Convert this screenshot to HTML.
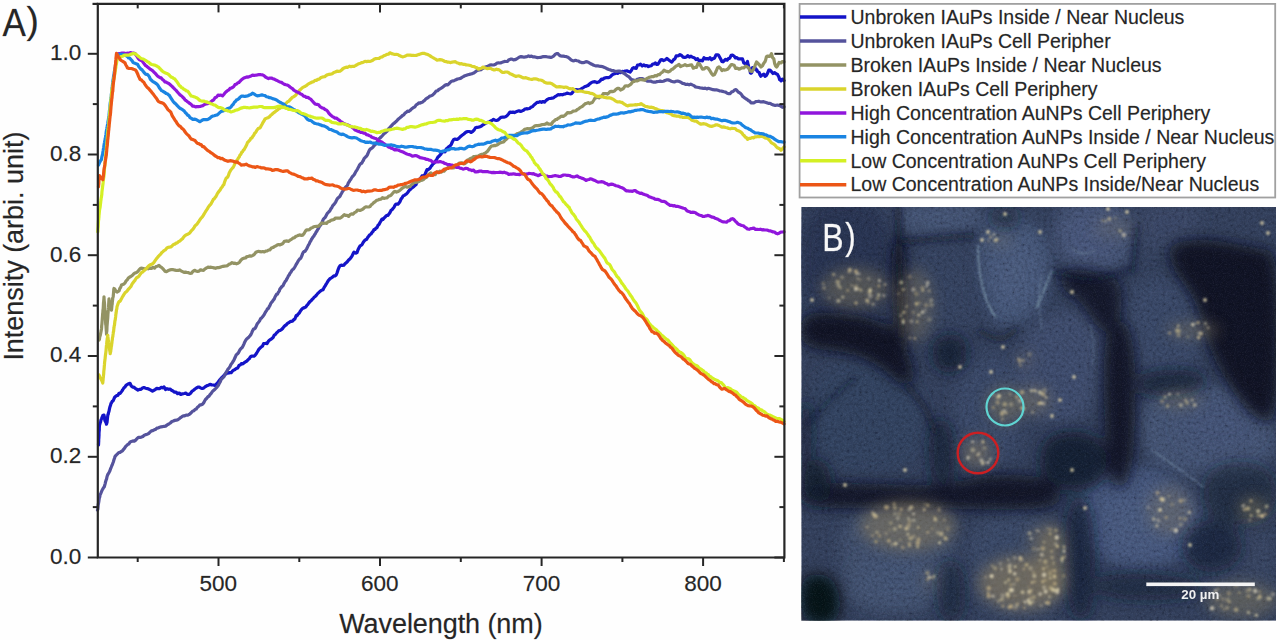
<!DOCTYPE html>
<html><head><meta charset="utf-8"><style>
html,body{margin:0;padding:0;background:#fff;}
body{width:1280px;height:640px;overflow:hidden;position:relative;}
#w{position:absolute;left:0;top:0;width:1280px;height:640px;}
svg{display:block;}
text{font-family:"Liberation Sans",sans-serif;fill:#262626;stroke:#262626;stroke-width:0.35px;stroke-opacity:0.55;}
</style></head><body>
<div id="w"><svg width="1280" height="640" viewBox="0 0 1280 640">
<rect width="1280" height="640" fill="#fefefe"/>
<defs>
<clipPath id="mc"><rect x="801.5" y="207" width="474.5" height="413.5"/></clipPath>
<filter id="b10" x="-30%" y="-30%" width="160%" height="160%"><feGaussianBlur stdDeviation="10"/></filter>
<filter id="b7" x="-30%" y="-30%" width="160%" height="160%"><feGaussianBlur stdDeviation="7"/></filter>
<filter id="b3" x="-30%" y="-30%" width="160%" height="160%"><feGaussianBlur stdDeviation="3"/></filter>
<filter id="b1" x="-50%" y="-50%" width="200%" height="200%"><feGaussianBlur stdDeviation="0.9"/></filter>
<filter id="b2" x="-50%" y="-50%" width="200%" height="200%"><feGaussianBlur stdDeviation="2"/></filter>
<filter id="grain" x="0" y="0" width="100%" height="100%">
 <feTurbulence type="fractalNoise" baseFrequency="0.32" numOctaves="2" seed="5"/>
 <feColorMatrix type="matrix" values="1.6 0 0 0 -0.3  1.6 0 0 0 -0.3  1.6 0 0 0 -0.25  0 0 0 0 1"/>
</filter>
<filter id="grainf" x="0" y="0" width="100%" height="100%">
 <feTurbulence type="fractalNoise" baseFrequency="0.9" numOctaves="1" seed="3"/>
 <feColorMatrix type="matrix" values="0 0 0 0 0.72  0 0 0 0 0.78  0 0 0 0 0.92  0 0 0 1.7 -0.8"/>
</filter>
</defs>
<g clip-path="url(#mc)">
<rect x="801.5" y="207" width="474.5" height="413.5" fill="#36425e"/>
<g filter="url(#b7)"><path d="M800.0,257.0 Q800.0,200.0 845.0,200.0 Q890.0,200.0 891.0,250.0 Q892.0,300.0 886.0,308.0 Q880.0,316.0 840.0,315.0 Q800.0,314.0 800.0,257.0 Z" fill="#2a3552" opacity="1"/><path d="M903.0,290.0 Q902.0,248.0 936.0,245.0 Q970.0,242.0 973.0,285.0 Q976.0,328.0 960.0,332.0 Q944.0,336.0 924.0,334.0 Q904.0,332.0 903.0,290.0 Z" fill="#374462" opacity="1"/><path d="M898.0,218.0 Q898.0,200.0 941.5,200.0 Q985.0,200.0 983.5,215.0 Q982.0,230.0 940.0,233.0 Q898.0,236.0 898.0,218.0 Z" fill="#4a5878" opacity="1"/><path d="M980.0,269.0 Q975.0,222.0 993.5,214.0 Q1012.0,206.0 1032.0,223.0 Q1052.0,240.0 1051.0,270.0 Q1050.0,300.0 1031.0,315.0 Q1012.0,330.0 998.5,323.0 Q985.0,316.0 980.0,269.0 Z" fill="#4a5a7c" opacity="1"/><path d="M1055.0,234.0 Q1052.0,200.0 1092.0,200.0 Q1132.0,200.0 1133.5,227.5 Q1135.0,255.0 1121.5,264.5 Q1108.0,274.0 1083.0,271.0 Q1058.0,268.0 1055.0,234.0 Z" fill="#485778" opacity="1"/><path d="M1139.0,228.0 Q1136.0,200.0 1170.5,200.0 Q1205.0,200.0 1200.0,220.0 Q1195.0,240.0 1168.5,248.0 Q1142.0,256.0 1139.0,228.0 Z" fill="#3c4868" opacity="1"/><path d="M1125.0,326.0 Q1124.0,280.0 1159.5,279.0 Q1195.0,278.0 1202.5,304.0 Q1210.0,330.0 1200.0,352.5 Q1190.0,375.0 1158.0,373.5 Q1126.0,372.0 1125.0,326.0 Z" fill="#3e4b6b" opacity="1"/><path d="M1016.0,373.0 Q1016.0,326.0 1055.5,313.0 Q1095.0,300.0 1099.5,336.0 Q1104.0,372.0 1094.5,398.5 Q1085.0,425.0 1050.5,422.5 Q1016.0,420.0 1016.0,373.0 Z" fill="#42506f" opacity="1"/><path d="M954.0,420.0 Q950.0,372.0 981.0,359.0 Q1012.0,346.0 1020.0,383.0 Q1028.0,420.0 1016.5,445.0 Q1005.0,470.0 981.5,469.0 Q958.0,468.0 954.0,420.0 Z" fill="#3e4b6b" opacity="1"/><path d="M808.0,422.0 Q808.0,368.0 846.5,364.0 Q885.0,360.0 905.0,377.5 Q925.0,395.0 926.5,432.5 Q928.0,470.0 868.0,473.0 Q808.0,476.0 808.0,422.0 Z" fill="#354462" opacity="1"/><path d="M1140.0,427.0 Q1138.0,392.0 1174.0,386.0 Q1210.0,380.0 1243.0,390.0 Q1276.0,400.0 1276.0,435.0 Q1276.0,470.0 1243.0,474.0 Q1210.0,478.0 1176.0,470.0 Q1142.0,462.0 1140.0,427.0 Z" fill="#4a5878" opacity="1"/><path d="M1082.0,495.0 Q1084.0,470.0 1117.0,466.0 Q1150.0,462.0 1177.0,481.0 Q1204.0,500.0 1202.0,527.5 Q1200.0,555.0 1175.0,562.5 Q1150.0,570.0 1123.0,566.0 Q1096.0,562.0 1088.0,541.0 Q1080.0,520.0 1082.0,495.0 Z" fill="#4a5a80" opacity="1"/><path d="M841.0,539.0 Q842.0,508.0 896.0,507.0 Q950.0,506.0 953.0,538.0 Q956.0,570.0 947.0,591.0 Q938.0,612.0 894.0,612.0 Q850.0,612.0 845.0,591.0 Q840.0,570.0 841.0,539.0 Z" fill="#44536f" opacity="1"/><path d="M968.0,565.0 Q966.0,512.0 1013.0,510.0 Q1060.0,508.0 1063.0,563.0 Q1066.0,618.0 1018.0,618.0 Q970.0,618.0 968.0,565.0 Z" fill="#3e4b69" opacity="1"/><path d="M1208.0,574.0 Q1208.0,528.0 1242.0,526.0 Q1276.0,524.0 1276.0,572.0 Q1276.0,620.0 1242.0,620.0 Q1208.0,620.0 1208.0,574.0 Z" fill="#3a4664" opacity="1"/></g>
<g filter="url(#b10)"><ellipse cx="1140" cy="520" rx="40" ry="35" fill="#52628a" opacity="0.5" transform="rotate(0 1140 520)"/><ellipse cx="1015" cy="272" rx="22" ry="35" fill="#55668a" opacity="0.5" transform="rotate(0 1015 272)"/><ellipse cx="1092" cy="235" rx="30" ry="22" fill="#52628a" opacity="0.45" transform="rotate(0 1092 235)"/><ellipse cx="895" cy="580" rx="40" ry="26" fill="#4c5c80" opacity="0.5" transform="rotate(0 895 580)"/><ellipse cx="1220" cy="425" rx="40" ry="25" fill="#4c5a80" opacity="0.4" transform="rotate(0 1220 425)"/></g>
<g filter="url(#b7)"><path d="M800.0,330.0 Q800.0,312.0 825.0,312.5 Q850.0,313.0 870.0,318.5 Q890.0,324.0 898.0,334.5 Q906.0,345.0 911.0,361.5 Q916.0,378.0 910.0,383.0 Q904.0,388.0 892.0,377.0 Q880.0,366.0 865.0,359.0 Q850.0,352.0 825.0,350.0 Q800.0,348.0 800.0,330.0 Z" fill="#0b101e" opacity="0.95"/><path d="M892.0,296.0 Q890.0,236.0 898.0,236.0 Q906.0,236.0 908.0,293.0 Q910.0,350.0 902.0,353.0 Q894.0,356.0 892.0,296.0 Z" fill="#0b101e" opacity="0.85"/><path d="M932.5,356.0 Q930.0,338.0 947.5,335.0 Q965.0,332.0 966.5,351.0 Q968.0,370.0 951.5,372.0 Q935.0,374.0 932.5,356.0 Z" fill="#121a2c" opacity="0.8"/><path d="M1061.0,279.0 Q1060.0,268.0 1080.0,270.0 Q1100.0,272.0 1112.0,277.0 Q1124.0,282.0 1121.0,309.0 Q1118.0,336.0 1108.0,333.0 Q1098.0,330.0 1089.0,315.0 Q1080.0,300.0 1071.0,295.0 Q1062.0,290.0 1061.0,279.0 Z" fill="#0b101e" opacity="0.85"/><path d="M1104.0,370.0 Q1104.0,320.0 1119.0,321.0 Q1134.0,322.0 1135.0,371.0 Q1136.0,420.0 1133.0,454.0 Q1130.0,488.0 1119.0,487.0 Q1108.0,486.0 1106.0,453.0 Q1104.0,420.0 1104.0,370.0 Z" fill="#0b101e" opacity="0.9"/><path d="M1170.0,258.0 Q1166.0,244.0 1185.5,241.0 Q1205.0,238.0 1230.0,243.0 Q1255.0,248.0 1267.5,250.0 Q1280.0,252.0 1280.0,340.0 Q1280.0,428.0 1265.0,422.0 Q1250.0,416.0 1237.5,398.0 Q1225.0,380.0 1216.5,363.0 Q1208.0,346.0 1202.0,323.0 Q1196.0,300.0 1185.0,286.0 Q1174.0,272.0 1170.0,258.0 Z" fill="#0b101e" opacity="0.95"/><path d="M1138.0,385.0 Q1136.0,372.0 1168.0,370.0 Q1200.0,368.0 1204.0,380.0 Q1208.0,392.0 1174.0,395.0 Q1140.0,398.0 1138.0,385.0 Z" fill="#141c30" opacity="0.7"/><path d="M1040.0,461.0 Q1040.0,432.0 1073.0,432.0 Q1106.0,432.0 1107.0,461.0 Q1108.0,490.0 1074.0,490.0 Q1040.0,490.0 1040.0,461.0 Z" fill="#111828" opacity="0.85"/><path d="M800.0,495.0 Q800.0,482.0 840.0,483.0 Q880.0,484.0 910.0,485.0 Q940.0,486.0 965.0,480.0 Q990.0,474.0 1015.0,475.0 Q1040.0,476.0 1050.0,481.0 Q1060.0,486.0 1060.0,497.0 Q1060.0,508.0 1030.0,509.0 Q1000.0,510.0 970.0,509.0 Q940.0,508.0 910.0,508.0 Q880.0,508.0 840.0,508.0 Q800.0,508.0 800.0,495.0 Z" fill="#0b101e" opacity="0.9"/><path d="M800.0,482.5 Q800.0,460.0 815.0,460.0 Q830.0,460.0 831.0,482.5 Q832.0,505.0 816.0,505.0 Q800.0,505.0 800.0,482.5 Z" fill="#111828" opacity="0.8"/><path d="M929.0,454.0 Q928.0,420.0 940.0,419.0 Q952.0,418.0 954.0,451.5 Q956.0,485.0 943.0,486.5 Q930.0,488.0 929.0,454.0 Z" fill="#141c30" opacity="0.7"/><path d="M800.0,598.5 Q800.0,572.0 819.0,574.0 Q838.0,576.0 840.0,600.5 Q842.0,625.0 821.0,625.0 Q800.0,625.0 800.0,598.5 Z" fill="#05080f" opacity="0.95"/><path d="M1065.0,559.0 Q1064.0,498.0 1079.0,498.0 Q1094.0,498.0 1095.0,559.0 Q1096.0,620.0 1081.0,620.0 Q1066.0,620.0 1065.0,559.0 Z" fill="#161e32" opacity="0.7"/><path d="M1204.0,493.0 Q1204.0,462.0 1240.0,462.0 Q1276.0,462.0 1276.0,493.0 Q1276.0,524.0 1240.0,524.0 Q1204.0,524.0 1204.0,493.0 Z" fill="#161e32" opacity="0.55"/><ellipse cx="1212" cy="546" rx="30" ry="26" fill="#161e32" opacity="0.7" transform="rotate(0 1212 546)"/><path d="M1094.0,586.0 Q1094.0,572.0 1147.0,574.0 Q1200.0,576.0 1200.0,588.0 Q1200.0,600.0 1147.0,600.0 Q1094.0,600.0 1094.0,586.0 Z" fill="#182034" opacity="0.6"/><path d="M937.0,591.0 Q936.0,560.0 950.0,560.0 Q964.0,560.0 965.0,591.0 Q966.0,622.0 952.0,622.0 Q938.0,622.0 937.0,591.0 Z" fill="#182034" opacity="0.6"/><path d="M800.0,435.0 Q800.0,400.0 806.0,400.0 Q812.0,400.0 812.0,435.0 Q812.0,470.0 806.0,470.0 Q800.0,470.0 800.0,435.0 Z" fill="#121a2c" opacity="0.7"/><path d="M991.0,218.0 Q990.0,208.0 1005.0,208.0 Q1020.0,208.0 1019.0,218.0 Q1018.0,228.0 1005.0,228.0 Q992.0,228.0 991.0,218.0 Z" fill="#121a2c" opacity="0.6"/></g>
<g filter="url(#b3)"><path d="M898.0,210.0 Q899.0,260.0 900.0,298.0 L901.0,336.0" fill="none" stroke="#0d1324" stroke-width="6" stroke-linecap="round" stroke-linejoin="round" opacity="0.7"/><path d="M900.0,242.0 Q940.0,238.0 956.0,237.0 L972.0,236.0" fill="none" stroke="#0d1324" stroke-width="6" stroke-linecap="round" stroke-linejoin="round" opacity="0.6"/><path d="M1052.0,272.0 Q1075.0,278.0 1087.5,279.0 Q1100.0,280.0 1115.0,275.0 L1130.0,270.0" fill="none" stroke="#0d1324" stroke-width="5" stroke-linecap="round" stroke-linejoin="round" opacity="0.55"/><path d="M1137.0,227.0 L1133.0,271.0" fill="none" stroke="#0d1324" stroke-width="5" stroke-linecap="round" stroke-linejoin="round" opacity="0.55"/><path d="M855.0,378.0 Q828.0,400.0 818.0,412.0 L808.0,424.0" fill="none" stroke="#0d1324" stroke-width="4" stroke-linecap="round" stroke-linejoin="round" opacity="0.5"/><path d="M906.0,385.0 Q925.0,405.0 930.0,418.5 L935.0,432.0" fill="none" stroke="#0d1324" stroke-width="6" stroke-linecap="round" stroke-linejoin="round" opacity="0.6"/><path d="M980.0,332.0 Q1000.0,342.0 1008.0,336.0 L1016.0,330.0" fill="none" stroke="#0d1324" stroke-width="6" stroke-linecap="round" stroke-linejoin="round" opacity="0.5"/></g>
<g filter="url(#b1)"><path d="M978,245 Q978,292 996,318" stroke="#9ab8d0" stroke-width="2.2" fill="none" opacity="0.55"/><path d="M1052,270 Q1044,292 1036,308" stroke="#9ab8d0" stroke-width="2.2" fill="none" opacity="0.5"/><path d="M1152,450 Q1178,468 1204,487" stroke="#90a8c4" stroke-width="2" fill="none" opacity="0.45"/><path d="M1072,248 Q1082,258 1096,250" stroke="#90a8c4" stroke-width="1.4" fill="none" opacity="0.45"/><path d="M1042,275 Q1036,300 1042,330" stroke="#90a8c4" stroke-width="1.6" fill="none" opacity="0.35"/><path d="M1090,325 Q1096,345 1092,365" stroke="#90a8c4" stroke-width="1.4" fill="none" opacity="0.3"/></g>
<rect x="801.5" y="207" width="474.5" height="413.5" filter="url(#grain)" opacity="0.22" style="mix-blend-mode:overlay"/>
<rect x="801.5" y="207" width="474.5" height="413.5" filter="url(#grainf)" opacity="0.15"/>
<rect x="801.5" y="207" width="474.5" height="413.5" fill="#0c1220" opacity="0.2"/>
<g filter="url(#b7)"><ellipse cx="855" cy="288" rx="34.65" ry="21.0" fill="#857a5e" opacity="0.44000000000000006" transform="rotate(0 855 288)"/><ellipse cx="915" cy="305" rx="18.900000000000002" ry="36.75" fill="#857a5e" opacity="0.385" transform="rotate(0 915 305)"/><ellipse cx="1005" cy="405" rx="18.900000000000002" ry="18.900000000000002" fill="#857a5e" opacity="0.44000000000000006" transform="rotate(0 1005 405)"/><ellipse cx="1035" cy="400" rx="16.8" ry="14.700000000000001" fill="#857a5e" opacity="0.385" transform="rotate(0 1035 400)"/><ellipse cx="1025" cy="360" rx="9.450000000000001" ry="7.3500000000000005" fill="#857a5e" opacity="0.275" transform="rotate(0 1025 360)"/><ellipse cx="977" cy="453" rx="15.75" ry="15.75" fill="#857a5e" opacity="0.49500000000000005" transform="rotate(0 977 453)"/><ellipse cx="908" cy="526" rx="48.300000000000004" ry="25.200000000000003" fill="#857a5e" opacity="0.55" transform="rotate(0 908 526)"/><ellipse cx="1022" cy="583" rx="44.1" ry="27.3" fill="#857a5e" opacity="0.66" transform="rotate(0 1022 583)"/><ellipse cx="1045" cy="540" rx="18.900000000000002" ry="14.700000000000001" fill="#857a5e" opacity="0.33" transform="rotate(0 1045 540)"/><ellipse cx="1193" cy="330" rx="27.3" ry="8.4" fill="#857a5e" opacity="0.385" transform="rotate(0 1193 330)"/><ellipse cx="1180" cy="400" rx="21.0" ry="8.4" fill="#857a5e" opacity="0.385" transform="rotate(0 1180 400)"/><ellipse cx="1170" cy="510" rx="23.1" ry="25.200000000000003" fill="#857a5e" opacity="0.33" transform="rotate(0 1170 510)"/><ellipse cx="1253" cy="509" rx="14.700000000000001" ry="12.600000000000001" fill="#857a5e" opacity="0.44000000000000006" transform="rotate(0 1253 509)"/><ellipse cx="1242" cy="600" rx="36.75" ry="17.85" fill="#857a5e" opacity="0.44000000000000006" transform="rotate(0 1242 600)"/><ellipse cx="1052" cy="560" rx="14.700000000000001" ry="36.75" fill="#857a5e" opacity="0.49500000000000005" transform="rotate(0 1052 560)"/><ellipse cx="1000" cy="240" rx="12.600000000000001" ry="8.4" fill="#857a5e" opacity="0.22000000000000003" transform="rotate(0 1000 240)"/><ellipse cx="1115" cy="228" rx="21.0" ry="10.5" fill="#857a5e" opacity="0.22000000000000003" transform="rotate(0 1115 228)"/><ellipse cx="930" cy="580" rx="8.4" ry="10.5" fill="#857a5e" opacity="0.275" transform="rotate(0 930 580)"/></g>
<g filter="url(#b1)"><circle cx="851.7" cy="285.6" r="1.6" fill="#d8c89a" opacity="0.31"/><circle cx="877.7" cy="298.3" r="1.9" fill="#d0c090" opacity="0.44"/><circle cx="870.2" cy="289.7" r="1.9" fill="#e8dcb0" opacity="0.50"/><circle cx="849.1" cy="271.6" r="1.8" fill="#c8b488" opacity="0.52"/><circle cx="856.0" cy="286.5" r="2.2" fill="#c8b488" opacity="0.40"/><circle cx="873.1" cy="304.2" r="1.7" fill="#e8dcb0" opacity="0.42"/><circle cx="842.8" cy="297.1" r="1.6" fill="#e8dcb0" opacity="0.58"/><circle cx="823.3" cy="283.5" r="1.7" fill="#d0c090" opacity="0.38"/><circle cx="833.6" cy="274.4" r="1.7" fill="#d8c89a" opacity="0.57"/><circle cx="870.1" cy="290.7" r="1.6" fill="#e8dcb0" opacity="0.63"/><circle cx="868.6" cy="278.8" r="1.8" fill="#f0e6c8" opacity="0.32"/><circle cx="838.4" cy="300.9" r="2.1" fill="#e8dcb0" opacity="0.52"/><circle cx="868.4" cy="303.0" r="1.5" fill="#c8b488" opacity="0.37"/><circle cx="879.4" cy="280.5" r="1.5" fill="#f0e6c8" opacity="0.63"/><circle cx="857.6" cy="278.6" r="1.3" fill="#f0e6c8" opacity="0.43"/><circle cx="883.8" cy="295.7" r="1.9" fill="#f0e6c8" opacity="0.35"/><circle cx="824.0" cy="288.1" r="2.0" fill="#d8c89a" opacity="0.37"/><circle cx="855.5" cy="303.0" r="1.6" fill="#d0c090" opacity="0.44"/><circle cx="837.8" cy="282.0" r="2.4" fill="#d8c89a" opacity="0.48"/><circle cx="861.0" cy="290.3" r="1.4" fill="#d8c89a" opacity="0.61"/><circle cx="847.7" cy="290.4" r="1.7" fill="#c8b488" opacity="0.49"/><circle cx="885.1" cy="284.6" r="1.3" fill="#e8dcb0" opacity="0.56"/><circle cx="838.4" cy="285.6" r="2.0" fill="#e8dcb0" opacity="0.38"/><circle cx="856.0" cy="289.0" r="2.1" fill="#f0e6c8" opacity="0.69"/><circle cx="856.8" cy="273.8" r="1.4" fill="#f0e6c8" opacity="0.63"/><circle cx="840.3" cy="287.6" r="1.7" fill="#d8c89a" opacity="0.49"/><circle cx="859.3" cy="273.7" r="1.3" fill="#f0e6c8" opacity="0.47"/><circle cx="870.2" cy="295.8" r="2.4" fill="#f0e6c8" opacity="0.36"/><circle cx="856.4" cy="303.0" r="1.4" fill="#c8b488" opacity="0.62"/><circle cx="878.9" cy="286.0" r="1.4" fill="#c8b488" opacity="0.68"/><circle cx="867.2" cy="300.5" r="2.0" fill="#d8c89a" opacity="0.67"/><circle cx="855.9" cy="271.4" r="2.1" fill="#c8b488" opacity="0.70"/><circle cx="842.1" cy="277.3" r="1.9" fill="#e8dcb0" opacity="0.36"/><circle cx="859.4" cy="289.1" r="1.9" fill="#d0c090" opacity="0.35"/><circle cx="878.7" cy="294.9" r="1.6" fill="#e8dcb0" opacity="0.64"/><circle cx="869.5" cy="292.2" r="2.0" fill="#d8c89a" opacity="0.49"/><circle cx="849.8" cy="269.5" r="1.9" fill="#d8c89a" opacity="0.60"/><circle cx="860.1" cy="279.8" r="1.4" fill="#c8b488" opacity="0.41"/><circle cx="829.0" cy="297.9" r="1.4" fill="#e8dcb0" opacity="0.28"/><circle cx="851.0" cy="270.3" r="1.4" fill="#d8c89a" opacity="0.34"/><circle cx="903.9" cy="312.2" r="1.6" fill="#d8c89a" opacity="0.64"/><circle cx="929.4" cy="319.4" r="2.2" fill="#e8dcb0" opacity="0.27"/><circle cx="931.5" cy="304.9" r="2.4" fill="#d8c89a" opacity="0.32"/><circle cx="906.7" cy="306.5" r="1.7" fill="#e8dcb0" opacity="0.32"/><circle cx="926.2" cy="305.3" r="2.3" fill="#c8b488" opacity="0.38"/><circle cx="909.9" cy="276.8" r="2.2" fill="#c8b488" opacity="0.32"/><circle cx="909.9" cy="338.0" r="1.9" fill="#d0c090" opacity="0.28"/><circle cx="913.4" cy="312.2" r="1.8" fill="#d0c090" opacity="0.32"/><circle cx="919.9" cy="302.6" r="1.5" fill="#d0c090" opacity="0.28"/><circle cx="922.4" cy="288.0" r="2.3" fill="#d0c090" opacity="0.36"/><circle cx="903.3" cy="289.6" r="1.8" fill="#d0c090" opacity="0.50"/><circle cx="911.3" cy="321.3" r="2.0" fill="#f0e6c8" opacity="0.36"/><circle cx="903.3" cy="322.5" r="1.6" fill="#f0e6c8" opacity="0.67"/><circle cx="916.6" cy="303.7" r="2.0" fill="#d0c090" opacity="0.70"/><circle cx="922.4" cy="312.2" r="1.6" fill="#f0e6c8" opacity="0.65"/><circle cx="922.9" cy="290.4" r="1.5" fill="#d0c090" opacity="0.57"/><circle cx="901.3" cy="282.6" r="2.0" fill="#e8dcb0" opacity="0.55"/><circle cx="898.6" cy="293.6" r="1.4" fill="#d8c89a" opacity="0.37"/><circle cx="926.9" cy="285.7" r="1.5" fill="#f0e6c8" opacity="0.52"/><circle cx="913.4" cy="289.5" r="2.0" fill="#f0e6c8" opacity="0.48"/><circle cx="914.9" cy="338.4" r="1.4" fill="#c8b488" opacity="0.62"/><circle cx="925.0" cy="310.5" r="1.4" fill="#f0e6c8" opacity="0.32"/><circle cx="900.9" cy="315.5" r="1.9" fill="#e8dcb0" opacity="0.28"/><circle cx="927.7" cy="282.7" r="1.9" fill="#f0e6c8" opacity="0.51"/><circle cx="918.8" cy="315.0" r="1.6" fill="#e8dcb0" opacity="0.65"/><circle cx="917.2" cy="321.9" r="1.4" fill="#d0c090" opacity="0.65"/><circle cx="903.2" cy="320.3" r="1.5" fill="#d8c89a" opacity="0.64"/><circle cx="931.0" cy="300.3" r="2.3" fill="#e8dcb0" opacity="0.33"/><circle cx="929.2" cy="290.9" r="1.8" fill="#d8c89a" opacity="0.37"/><circle cx="916.4" cy="293.8" r="2.3" fill="#c8b488" opacity="0.35"/><circle cx="1010.0" cy="393.8" r="1.6" fill="#d8c89a" opacity="0.35"/><circle cx="998.9" cy="395.4" r="1.6" fill="#e8dcb0" opacity="0.69"/><circle cx="1002.4" cy="419.2" r="1.7" fill="#d0c090" opacity="0.40"/><circle cx="1021.6" cy="407.9" r="1.6" fill="#d0c090" opacity="0.68"/><circle cx="1004.4" cy="410.9" r="1.8" fill="#f0e6c8" opacity="0.45"/><circle cx="1011.1" cy="404.4" r="2.3" fill="#d8c89a" opacity="0.36"/><circle cx="1004.8" cy="404.3" r="2.3" fill="#d0c090" opacity="0.56"/><circle cx="1019.4" cy="399.3" r="1.5" fill="#c8b488" opacity="0.28"/><circle cx="999.7" cy="396.1" r="1.6" fill="#e8dcb0" opacity="0.57"/><circle cx="1001.9" cy="414.5" r="1.7" fill="#c8b488" opacity="0.56"/><circle cx="997.6" cy="402.4" r="2.0" fill="#c8b488" opacity="0.55"/><circle cx="1016.6" cy="396.9" r="1.6" fill="#d0c090" opacity="0.63"/><circle cx="1002.3" cy="412.8" r="2.2" fill="#d0c090" opacity="0.54"/><circle cx="993.3" cy="407.6" r="1.5" fill="#c8b488" opacity="0.61"/><circle cx="1020.0" cy="401.1" r="2.0" fill="#f0e6c8" opacity="0.48"/><circle cx="998.0" cy="397.3" r="2.2" fill="#d8c89a" opacity="0.55"/><circle cx="1006.3" cy="412.9" r="1.3" fill="#d8c89a" opacity="0.69"/><circle cx="992.9" cy="394.8" r="1.8" fill="#d0c090" opacity="0.34"/><circle cx="1031.3" cy="390.7" r="1.6" fill="#e8dcb0" opacity="0.65"/><circle cx="1044.6" cy="389.9" r="2.2" fill="#d8c89a" opacity="0.33"/><circle cx="1046.1" cy="397.4" r="1.4" fill="#d8c89a" opacity="0.66"/><circle cx="1039.2" cy="403.5" r="1.8" fill="#d0c090" opacity="0.69"/><circle cx="1022.1" cy="392.3" r="2.3" fill="#d0c090" opacity="0.62"/><circle cx="1043.1" cy="394.3" r="2.3" fill="#c8b488" opacity="0.65"/><circle cx="1034.6" cy="390.4" r="1.6" fill="#d8c89a" opacity="0.63"/><circle cx="1032.6" cy="412.2" r="1.8" fill="#d8c89a" opacity="0.37"/><circle cx="1042.6" cy="403.5" r="1.6" fill="#f0e6c8" opacity="0.65"/><circle cx="1040.4" cy="402.6" r="1.7" fill="#d8c89a" opacity="0.57"/><circle cx="1044.4" cy="403.5" r="1.9" fill="#c8b488" opacity="0.28"/><circle cx="1040.0" cy="392.4" r="2.1" fill="#e8dcb0" opacity="0.64"/><circle cx="1036.0" cy="391.4" r="1.3" fill="#f0e6c8" opacity="0.38"/><circle cx="1023.4" cy="408.4" r="2.2" fill="#d0c090" opacity="0.59"/><circle cx="1018.3" cy="358.4" r="1.5" fill="#d8c89a" opacity="0.37"/><circle cx="1019.4" cy="360.4" r="2.0" fill="#c8b488" opacity="0.58"/><circle cx="1029.6" cy="354.3" r="2.4" fill="#d0c090" opacity="0.26"/><circle cx="1019.7" cy="363.2" r="1.3" fill="#c8b488" opacity="0.31"/><circle cx="1023.0" cy="360.4" r="1.7" fill="#d8c89a" opacity="0.45"/><circle cx="1020.6" cy="365.6" r="1.6" fill="#c8b488" opacity="0.36"/><circle cx="978.8" cy="454.0" r="1.9" fill="#f0e6c8" opacity="0.35"/><circle cx="990.3" cy="459.1" r="1.3" fill="#e8dcb0" opacity="0.68"/><circle cx="977.7" cy="455.0" r="1.5" fill="#d8c89a" opacity="0.46"/><circle cx="988.0" cy="462.6" r="1.8" fill="#f0e6c8" opacity="0.60"/><circle cx="982.8" cy="463.2" r="2.1" fill="#e8dcb0" opacity="0.60"/><circle cx="981.3" cy="460.2" r="1.9" fill="#f0e6c8" opacity="0.51"/><circle cx="984.7" cy="448.0" r="2.3" fill="#d8c89a" opacity="0.28"/><circle cx="972.7" cy="441.9" r="1.4" fill="#f0e6c8" opacity="0.63"/><circle cx="972.8" cy="449.9" r="2.4" fill="#e8dcb0" opacity="0.41"/><circle cx="968.8" cy="457.0" r="1.9" fill="#f0e6c8" opacity="0.26"/><circle cx="967.8" cy="458.1" r="1.8" fill="#f0e6c8" opacity="0.54"/><circle cx="983.0" cy="441.9" r="1.8" fill="#d0c090" opacity="0.68"/><circle cx="902.8" cy="547.4" r="1.9" fill="#c8b488" opacity="0.46"/><circle cx="924.2" cy="509.6" r="1.7" fill="#d8c89a" opacity="0.62"/><circle cx="944.9" cy="537.7" r="1.6" fill="#c8b488" opacity="0.51"/><circle cx="894.9" cy="513.9" r="1.8" fill="#f0e6c8" opacity="0.33"/><circle cx="917.7" cy="546.8" r="1.7" fill="#d0c090" opacity="0.57"/><circle cx="907.2" cy="528.4" r="2.3" fill="#e8dcb0" opacity="0.36"/><circle cx="879.5" cy="535.9" r="1.6" fill="#c8b488" opacity="0.54"/><circle cx="867.1" cy="527.2" r="1.4" fill="#d8c89a" opacity="0.43"/><circle cx="909.6" cy="545.5" r="1.7" fill="#d0c090" opacity="0.49"/><circle cx="872.5" cy="535.4" r="1.7" fill="#c8b488" opacity="0.37"/><circle cx="907.9" cy="534.3" r="1.5" fill="#e8dcb0" opacity="0.58"/><circle cx="944.4" cy="519.9" r="1.5" fill="#c8b488" opacity="0.37"/><circle cx="874.1" cy="514.8" r="2.0" fill="#e8dcb0" opacity="0.62"/><circle cx="900.1" cy="539.8" r="1.6" fill="#d0c090" opacity="0.31"/><circle cx="918.3" cy="527.6" r="1.6" fill="#d8c89a" opacity="0.54"/><circle cx="908.3" cy="518.3" r="1.3" fill="#f0e6c8" opacity="0.46"/><circle cx="889.6" cy="529.8" r="1.4" fill="#c8b488" opacity="0.30"/><circle cx="937.6" cy="532.7" r="1.9" fill="#e8dcb0" opacity="0.32"/><circle cx="924.8" cy="504.3" r="1.4" fill="#d8c89a" opacity="0.30"/><circle cx="911.2" cy="507.4" r="2.2" fill="#d8c89a" opacity="0.60"/><circle cx="876.0" cy="541.6" r="1.6" fill="#d0c090" opacity="0.70"/><circle cx="895.6" cy="543.8" r="2.0" fill="#e8dcb0" opacity="0.68"/><circle cx="913.5" cy="536.6" r="2.0" fill="#d8c89a" opacity="0.36"/><circle cx="890.8" cy="523.0" r="1.7" fill="#d0c090" opacity="0.46"/><circle cx="932.2" cy="528.6" r="1.6" fill="#c8b488" opacity="0.28"/><circle cx="910.5" cy="538.3" r="2.2" fill="#d0c090" opacity="0.55"/><circle cx="935.4" cy="519.7" r="1.9" fill="#d8c89a" opacity="0.66"/><circle cx="913.7" cy="520.3" r="1.5" fill="#f0e6c8" opacity="0.52"/><circle cx="927.9" cy="505.4" r="1.8" fill="#c8b488" opacity="0.56"/><circle cx="894.1" cy="503.9" r="1.9" fill="#c8b488" opacity="0.45"/><circle cx="872.6" cy="512.9" r="2.1" fill="#d0c090" opacity="0.36"/><circle cx="945.9" cy="538.8" r="2.2" fill="#d0c090" opacity="0.51"/><circle cx="947.9" cy="528.7" r="2.2" fill="#d0c090" opacity="0.27"/><circle cx="909.2" cy="509.6" r="2.0" fill="#f0e6c8" opacity="0.33"/><circle cx="876.5" cy="516.2" r="1.8" fill="#e8dcb0" opacity="0.46"/><circle cx="886.1" cy="533.4" r="1.4" fill="#d8c89a" opacity="0.40"/><circle cx="899.4" cy="513.9" r="2.3" fill="#d0c090" opacity="0.27"/><circle cx="927.7" cy="532.3" r="1.4" fill="#c8b488" opacity="0.64"/><circle cx="908.7" cy="525.3" r="2.3" fill="#c8b488" opacity="0.44"/><circle cx="918.6" cy="539.3" r="2.1" fill="#c8b488" opacity="0.59"/><circle cx="917.8" cy="543.0" r="2.3" fill="#c8b488" opacity="0.65"/><circle cx="900.2" cy="526.4" r="2.0" fill="#d8c89a" opacity="0.57"/><circle cx="906.0" cy="528.6" r="1.7" fill="#d8c89a" opacity="0.70"/><circle cx="934.7" cy="517.5" r="1.4" fill="#d8c89a" opacity="0.47"/><circle cx="901.2" cy="509.3" r="1.6" fill="#c8b488" opacity="0.69"/><circle cx="909.3" cy="543.8" r="1.7" fill="#d0c090" opacity="0.48"/><circle cx="939.0" cy="510.7" r="1.6" fill="#c8b488" opacity="0.40"/><circle cx="913.6" cy="513.9" r="1.3" fill="#f0e6c8" opacity="0.63"/><circle cx="875.2" cy="516.6" r="2.3" fill="#c8b488" opacity="0.49"/><circle cx="888.8" cy="540.7" r="1.9" fill="#c8b488" opacity="0.67"/><circle cx="939.1" cy="508.6" r="1.6" fill="#c8b488" opacity="0.36"/><circle cx="909.5" cy="521.1" r="2.1" fill="#c8b488" opacity="0.42"/><circle cx="886.5" cy="507.4" r="2.4" fill="#c8b488" opacity="0.68"/><circle cx="939.7" cy="542.8" r="1.7" fill="#e8dcb0" opacity="0.64"/><circle cx="877.0" cy="532.4" r="1.8" fill="#d8c89a" opacity="0.43"/><circle cx="897.8" cy="518.2" r="1.8" fill="#f0e6c8" opacity="0.40"/><circle cx="894.9" cy="507.9" r="2.2" fill="#d0c090" opacity="0.42"/><circle cx="892.1" cy="544.6" r="2.1" fill="#d0c090" opacity="0.27"/><circle cx="941.2" cy="533.9" r="2.3" fill="#d8c89a" opacity="0.59"/><circle cx="894.8" cy="529.0" r="2.0" fill="#e8dcb0" opacity="0.45"/><circle cx="1008.2" cy="559.8" r="1.4" fill="#e8dcb0" opacity="0.38"/><circle cx="1010.7" cy="590.0" r="1.9" fill="#d0c090" opacity="0.56"/><circle cx="1029.5" cy="592.8" r="2.0" fill="#c8b488" opacity="0.53"/><circle cx="1024.3" cy="607.8" r="1.5" fill="#c8b488" opacity="0.54"/><circle cx="988.8" cy="588.3" r="2.3" fill="#c8b488" opacity="0.66"/><circle cx="1014.7" cy="573.7" r="1.8" fill="#f0e6c8" opacity="0.69"/><circle cx="1009.5" cy="607.3" r="2.1" fill="#c8b488" opacity="0.63"/><circle cx="1030.2" cy="598.3" r="1.8" fill="#d8c89a" opacity="0.42"/><circle cx="1007.6" cy="594.0" r="2.1" fill="#e8dcb0" opacity="0.69"/><circle cx="1010.0" cy="571.6" r="1.9" fill="#e8dcb0" opacity="0.66"/><circle cx="1020.8" cy="559.3" r="2.3" fill="#d8c89a" opacity="0.52"/><circle cx="1001.9" cy="599.6" r="2.0" fill="#d8c89a" opacity="0.53"/><circle cx="1049.7" cy="571.1" r="1.6" fill="#c8b488" opacity="0.27"/><circle cx="1011.9" cy="590.1" r="2.3" fill="#f0e6c8" opacity="0.59"/><circle cx="1028.9" cy="591.4" r="1.9" fill="#f0e6c8" opacity="0.49"/><circle cx="1054.8" cy="570.7" r="1.6" fill="#c8b488" opacity="0.69"/><circle cx="1011.0" cy="606.3" r="2.2" fill="#c8b488" opacity="0.68"/><circle cx="1048.2" cy="602.8" r="2.2" fill="#c8b488" opacity="0.69"/><circle cx="1030.5" cy="568.2" r="2.2" fill="#e8dcb0" opacity="0.37"/><circle cx="1040.2" cy="594.1" r="2.1" fill="#f0e6c8" opacity="0.51"/><circle cx="1039.9" cy="560.4" r="1.4" fill="#d8c89a" opacity="0.46"/><circle cx="992.2" cy="565.8" r="1.7" fill="#d0c090" opacity="0.35"/><circle cx="1057.2" cy="592.1" r="2.3" fill="#f0e6c8" opacity="0.54"/><circle cx="1028.6" cy="586.7" r="1.3" fill="#c8b488" opacity="0.30"/><circle cx="1024.9" cy="602.0" r="1.7" fill="#f0e6c8" opacity="0.55"/><circle cx="1020.2" cy="557.7" r="1.8" fill="#d8c89a" opacity="0.65"/><circle cx="1000.4" cy="563.4" r="2.0" fill="#f0e6c8" opacity="0.26"/><circle cx="1002.8" cy="595.6" r="2.3" fill="#f0e6c8" opacity="0.29"/><circle cx="1009.8" cy="565.4" r="2.4" fill="#f0e6c8" opacity="0.28"/><circle cx="1015.3" cy="608.2" r="2.3" fill="#c8b488" opacity="0.29"/><circle cx="1029.9" cy="603.2" r="2.4" fill="#e8dcb0" opacity="0.60"/><circle cx="1022.6" cy="592.2" r="1.9" fill="#e8dcb0" opacity="0.62"/><circle cx="991.7" cy="576.3" r="2.2" fill="#d8c89a" opacity="0.40"/><circle cx="1045.9" cy="602.7" r="1.3" fill="#d8c89a" opacity="0.69"/><circle cx="985.7" cy="577.2" r="1.4" fill="#e8dcb0" opacity="0.31"/><circle cx="998.5" cy="600.9" r="1.9" fill="#e8dcb0" opacity="0.33"/><circle cx="1056.2" cy="590.2" r="1.9" fill="#e8dcb0" opacity="0.46"/><circle cx="1027.3" cy="564.7" r="1.4" fill="#d0c090" opacity="0.35"/><circle cx="995.1" cy="568.3" r="2.3" fill="#d0c090" opacity="0.39"/><circle cx="1017.4" cy="579.4" r="2.4" fill="#c8b488" opacity="0.44"/><circle cx="1049.6" cy="596.8" r="1.8" fill="#e8dcb0" opacity="0.39"/><circle cx="1030.9" cy="590.4" r="2.0" fill="#d0c090" opacity="0.50"/><circle cx="1002.9" cy="606.1" r="1.9" fill="#c8b488" opacity="0.48"/><circle cx="988.1" cy="592.8" r="1.4" fill="#d0c090" opacity="0.57"/><circle cx="1028.2" cy="600.1" r="1.6" fill="#f0e6c8" opacity="0.62"/><circle cx="993.1" cy="596.2" r="1.6" fill="#f0e6c8" opacity="0.55"/><circle cx="1010.4" cy="590.2" r="2.3" fill="#e8dcb0" opacity="0.29"/><circle cx="1045.7" cy="591.7" r="2.1" fill="#f0e6c8" opacity="0.62"/><circle cx="991.8" cy="576.1" r="1.9" fill="#f0e6c8" opacity="0.55"/><circle cx="988.7" cy="595.9" r="2.3" fill="#c8b488" opacity="0.64"/><circle cx="1014.5" cy="557.8" r="2.0" fill="#f0e6c8" opacity="0.30"/><circle cx="1005.5" cy="582.5" r="1.8" fill="#e8dcb0" opacity="0.41"/><circle cx="1008.6" cy="579.9" r="1.6" fill="#d8c89a" opacity="0.61"/><circle cx="1045.3" cy="561.8" r="2.2" fill="#d0c090" opacity="0.55"/><circle cx="991.3" cy="575.9" r="2.0" fill="#f0e6c8" opacity="0.26"/><circle cx="1016.7" cy="605.5" r="2.3" fill="#f0e6c8" opacity="0.25"/><circle cx="1043.6" cy="568.7" r="1.7" fill="#d8c89a" opacity="0.58"/><circle cx="1034.5" cy="581.6" r="1.9" fill="#c8b488" opacity="0.44"/><circle cx="1008.2" cy="596.3" r="2.1" fill="#d0c090" opacity="0.52"/><circle cx="1034.3" cy="576.1" r="2.1" fill="#e8dcb0" opacity="0.55"/><circle cx="1017.3" cy="603.9" r="1.8" fill="#c8b488" opacity="0.44"/><circle cx="1028.5" cy="601.2" r="1.7" fill="#e8dcb0" opacity="0.38"/><circle cx="1009.3" cy="566.7" r="2.0" fill="#e8dcb0" opacity="0.35"/><circle cx="1031.8" cy="582.4" r="1.5" fill="#d8c89a" opacity="0.60"/><circle cx="1024.0" cy="569.1" r="1.4" fill="#c8b488" opacity="0.59"/><circle cx="1033.7" cy="597.3" r="2.1" fill="#d0c090" opacity="0.50"/><circle cx="1009.7" cy="569.5" r="1.7" fill="#e8dcb0" opacity="0.45"/><circle cx="1010.7" cy="584.8" r="1.6" fill="#c8b488" opacity="0.51"/><circle cx="1015.2" cy="566.7" r="1.4" fill="#e8dcb0" opacity="0.68"/><circle cx="1041.3" cy="605.3" r="1.8" fill="#f0e6c8" opacity="0.29"/><circle cx="1033.6" cy="572.4" r="1.9" fill="#d0c090" opacity="0.29"/><circle cx="1046.9" cy="566.7" r="1.5" fill="#d8c89a" opacity="0.28"/><circle cx="1001.5" cy="568.9" r="1.5" fill="#f0e6c8" opacity="0.41"/><circle cx="1054.6" cy="577.6" r="1.5" fill="#e8dcb0" opacity="0.32"/><circle cx="1032.6" cy="602.1" r="2.1" fill="#e8dcb0" opacity="0.33"/><circle cx="1026.2" cy="564.9" r="2.1" fill="#d0c090" opacity="0.45"/><circle cx="1050.0" cy="574.0" r="2.0" fill="#d0c090" opacity="0.40"/><circle cx="1045.2" cy="580.3" r="1.8" fill="#c8b488" opacity="0.45"/><circle cx="1014.8" cy="595.9" r="1.4" fill="#d0c090" opacity="0.28"/><circle cx="1014.1" cy="584.2" r="1.7" fill="#f0e6c8" opacity="0.28"/><circle cx="1055.9" cy="530.2" r="2.0" fill="#d0c090" opacity="0.42"/><circle cx="1029.6" cy="533.4" r="2.1" fill="#e8dcb0" opacity="0.45"/><circle cx="1050.3" cy="529.5" r="1.7" fill="#c8b488" opacity="0.48"/><circle cx="1056.7" cy="537.5" r="2.2" fill="#f0e6c8" opacity="0.69"/><circle cx="1057.5" cy="545.7" r="1.3" fill="#c8b488" opacity="0.70"/><circle cx="1031.1" cy="538.4" r="1.7" fill="#f0e6c8" opacity="0.42"/><circle cx="1047.3" cy="528.6" r="1.4" fill="#f0e6c8" opacity="0.28"/><circle cx="1057.3" cy="546.5" r="1.6" fill="#d0c090" opacity="0.64"/><circle cx="1038.1" cy="549.3" r="1.5" fill="#f0e6c8" opacity="0.39"/><circle cx="1036.8" cy="530.5" r="1.4" fill="#e8dcb0" opacity="0.39"/><circle cx="1033.6" cy="548.7" r="2.2" fill="#d0c090" opacity="0.29"/><circle cx="1038.8" cy="531.2" r="1.3" fill="#f0e6c8" opacity="0.33"/><circle cx="1198.6" cy="337.6" r="1.8" fill="#d8c89a" opacity="0.70"/><circle cx="1201.0" cy="333.6" r="2.2" fill="#d0c090" opacity="0.60"/><circle cx="1205.5" cy="323.5" r="1.3" fill="#f0e6c8" opacity="0.64"/><circle cx="1178.2" cy="325.8" r="1.5" fill="#d8c89a" opacity="0.62"/><circle cx="1196.1" cy="322.9" r="1.5" fill="#c8b488" opacity="0.27"/><circle cx="1178.5" cy="335.1" r="2.4" fill="#d0c090" opacity="0.38"/><circle cx="1192.8" cy="324.6" r="1.9" fill="#f0e6c8" opacity="0.68"/><circle cx="1198.3" cy="322.6" r="1.5" fill="#d0c090" opacity="0.69"/><circle cx="1179.6" cy="331.0" r="1.7" fill="#d0c090" opacity="0.44"/><circle cx="1199.1" cy="333.0" r="2.0" fill="#f0e6c8" opacity="0.27"/><circle cx="1177.3" cy="330.6" r="2.3" fill="#d0c090" opacity="0.63"/><circle cx="1188.0" cy="336.8" r="1.6" fill="#d0c090" opacity="0.32"/><circle cx="1169.6" cy="333.0" r="1.5" fill="#c8b488" opacity="0.65"/><circle cx="1208.2" cy="327.8" r="1.7" fill="#f0e6c8" opacity="0.36"/><circle cx="1192.2" cy="399.8" r="1.3" fill="#e8dcb0" opacity="0.63"/><circle cx="1169.5" cy="394.2" r="1.5" fill="#f0e6c8" opacity="0.66"/><circle cx="1162.0" cy="401.3" r="2.1" fill="#c8b488" opacity="0.45"/><circle cx="1185.6" cy="400.1" r="1.6" fill="#d8c89a" opacity="0.50"/><circle cx="1177.9" cy="394.2" r="1.4" fill="#f0e6c8" opacity="0.36"/><circle cx="1187.0" cy="402.7" r="2.0" fill="#d0c090" opacity="0.46"/><circle cx="1194.6" cy="404.9" r="2.0" fill="#e8dcb0" opacity="0.53"/><circle cx="1164.9" cy="396.9" r="1.6" fill="#e8dcb0" opacity="0.53"/><circle cx="1180.8" cy="405.2" r="2.0" fill="#e8dcb0" opacity="0.49"/><circle cx="1167.5" cy="406.0" r="1.9" fill="#d0c090" opacity="0.50"/><circle cx="1158.3" cy="520.5" r="2.0" fill="#f0e6c8" opacity="0.36"/><circle cx="1189.4" cy="512.2" r="1.7" fill="#e8dcb0" opacity="0.60"/><circle cx="1168.8" cy="496.2" r="1.3" fill="#d0c090" opacity="0.40"/><circle cx="1157.5" cy="492.9" r="2.1" fill="#c8b488" opacity="0.53"/><circle cx="1172.1" cy="504.4" r="2.2" fill="#c8b488" opacity="0.27"/><circle cx="1175.9" cy="530.4" r="2.3" fill="#f0e6c8" opacity="0.67"/><circle cx="1148.2" cy="507.7" r="1.9" fill="#f0e6c8" opacity="0.27"/><circle cx="1162.9" cy="499.8" r="2.2" fill="#e8dcb0" opacity="0.64"/><circle cx="1166.2" cy="517.4" r="1.7" fill="#c8b488" opacity="0.58"/><circle cx="1180.8" cy="500.8" r="2.4" fill="#c8b488" opacity="0.56"/><circle cx="1156.8" cy="525.9" r="1.6" fill="#e8dcb0" opacity="0.58"/><circle cx="1185.0" cy="518.9" r="2.2" fill="#d0c090" opacity="0.38"/><circle cx="1180.1" cy="518.3" r="1.6" fill="#c8b488" opacity="0.52"/><circle cx="1153.7" cy="518.9" r="1.7" fill="#e8dcb0" opacity="0.58"/><circle cx="1184.7" cy="500.1" r="1.8" fill="#e8dcb0" opacity="0.28"/><circle cx="1161.4" cy="499.0" r="2.2" fill="#d8c89a" opacity="0.68"/><circle cx="1180.7" cy="524.6" r="2.2" fill="#e8dcb0" opacity="0.31"/><circle cx="1171.6" cy="529.2" r="1.7" fill="#d0c090" opacity="0.26"/><circle cx="1258.4" cy="515.6" r="1.7" fill="#c8b488" opacity="0.59"/><circle cx="1243.9" cy="505.1" r="1.7" fill="#f0e6c8" opacity="0.36"/><circle cx="1262.1" cy="515.7" r="1.8" fill="#c8b488" opacity="0.66"/><circle cx="1262.1" cy="516.1" r="2.1" fill="#d8c89a" opacity="0.70"/><circle cx="1250.0" cy="520.2" r="1.8" fill="#e8dcb0" opacity="0.31"/><circle cx="1258.2" cy="511.2" r="2.1" fill="#e8dcb0" opacity="0.61"/><circle cx="1266.6" cy="506.6" r="2.0" fill="#e8dcb0" opacity="0.50"/><circle cx="1251.1" cy="515.4" r="1.5" fill="#d8c89a" opacity="0.61"/><circle cx="1248.1" cy="508.8" r="1.5" fill="#d8c89a" opacity="0.36"/><circle cx="1244.6" cy="509.3" r="1.9" fill="#c8b488" opacity="0.61"/><circle cx="1242.6" cy="506.0" r="1.4" fill="#f0e6c8" opacity="0.43"/><circle cx="1251.0" cy="500.9" r="1.8" fill="#c8b488" opacity="0.62"/><circle cx="1265.3" cy="514.3" r="2.0" fill="#c8b488" opacity="0.46"/><circle cx="1248.0" cy="508.5" r="2.2" fill="#d0c090" opacity="0.54"/><circle cx="1256.3" cy="615.2" r="1.8" fill="#e8dcb0" opacity="0.62"/><circle cx="1222.8" cy="598.9" r="1.5" fill="#d8c89a" opacity="0.41"/><circle cx="1272.9" cy="594.2" r="2.2" fill="#f0e6c8" opacity="0.34"/><circle cx="1259.7" cy="597.6" r="2.0" fill="#d0c090" opacity="0.49"/><circle cx="1227.6" cy="599.9" r="2.3" fill="#d8c89a" opacity="0.33"/><circle cx="1218.4" cy="588.6" r="1.7" fill="#d0c090" opacity="0.27"/><circle cx="1248.5" cy="596.3" r="2.3" fill="#d0c090" opacity="0.37"/><circle cx="1248.5" cy="612.5" r="2.0" fill="#e8dcb0" opacity="0.47"/><circle cx="1228.9" cy="593.4" r="2.4" fill="#c8b488" opacity="0.36"/><circle cx="1249.9" cy="589.9" r="1.8" fill="#e8dcb0" opacity="0.32"/><circle cx="1221.4" cy="605.9" r="1.7" fill="#d8c89a" opacity="0.39"/><circle cx="1236.1" cy="585.7" r="2.2" fill="#c8b488" opacity="0.31"/><circle cx="1224.0" cy="609.3" r="1.7" fill="#c8b488" opacity="0.31"/><circle cx="1229.5" cy="602.0" r="1.4" fill="#c8b488" opacity="0.64"/><circle cx="1212.1" cy="608.2" r="2.3" fill="#f0e6c8" opacity="0.67"/><circle cx="1239.2" cy="592.7" r="1.5" fill="#d0c090" opacity="0.46"/><circle cx="1259.9" cy="591.7" r="1.4" fill="#c8b488" opacity="0.48"/><circle cx="1257.9" cy="598.4" r="1.7" fill="#e8dcb0" opacity="0.38"/><circle cx="1215.7" cy="591.0" r="2.0" fill="#f0e6c8" opacity="0.49"/><circle cx="1255.2" cy="590.9" r="2.3" fill="#f0e6c8" opacity="0.59"/><circle cx="1227.3" cy="608.0" r="1.9" fill="#d8c89a" opacity="0.41"/><circle cx="1236.8" cy="610.3" r="1.8" fill="#d0c090" opacity="0.38"/><circle cx="1270.8" cy="599.0" r="1.4" fill="#e8dcb0" opacity="0.43"/><circle cx="1247.7" cy="590.5" r="2.3" fill="#d8c89a" opacity="0.34"/><circle cx="1217.3" cy="599.3" r="1.3" fill="#d8c89a" opacity="0.57"/><circle cx="1250.4" cy="588.4" r="1.5" fill="#d0c090" opacity="0.31"/><circle cx="1259.9" cy="596.0" r="1.7" fill="#d0c090" opacity="0.58"/><circle cx="1235.8" cy="609.4" r="2.2" fill="#d0c090" opacity="0.47"/><circle cx="1219.7" cy="595.5" r="1.3" fill="#f0e6c8" opacity="0.55"/><circle cx="1268.5" cy="598.4" r="2.2" fill="#e8dcb0" opacity="0.52"/><circle cx="1050.9" cy="588.2" r="2.4" fill="#d0c090" opacity="0.51"/><circle cx="1050.1" cy="533.7" r="1.5" fill="#d0c090" opacity="0.60"/><circle cx="1042.7" cy="581.7" r="1.6" fill="#d0c090" opacity="0.68"/><circle cx="1053.5" cy="563.1" r="1.6" fill="#d8c89a" opacity="0.44"/><circle cx="1054.8" cy="583.8" r="2.0" fill="#c8b488" opacity="0.64"/><circle cx="1051.7" cy="551.3" r="1.5" fill="#d8c89a" opacity="0.50"/><circle cx="1061.7" cy="559.7" r="1.7" fill="#d8c89a" opacity="0.46"/><circle cx="1041.9" cy="554.7" r="2.0" fill="#f0e6c8" opacity="0.52"/><circle cx="1054.5" cy="576.2" r="1.9" fill="#d8c89a" opacity="0.67"/><circle cx="1064.2" cy="556.6" r="2.1" fill="#c8b488" opacity="0.39"/><circle cx="1044.1" cy="587.5" r="2.2" fill="#f0e6c8" opacity="0.38"/><circle cx="1042.8" cy="548.5" r="2.3" fill="#c8b488" opacity="0.62"/><circle cx="1064.1" cy="551.2" r="1.6" fill="#f0e6c8" opacity="0.68"/><circle cx="1063.8" cy="576.0" r="2.0" fill="#c8b488" opacity="0.35"/><circle cx="1055.4" cy="543.9" r="1.9" fill="#f0e6c8" opacity="0.31"/><circle cx="1044.0" cy="542.2" r="1.6" fill="#d0c090" opacity="0.35"/><circle cx="1052.5" cy="571.0" r="1.7" fill="#c8b488" opacity="0.30"/><circle cx="1052.1" cy="557.5" r="1.9" fill="#d8c89a" opacity="0.43"/><circle cx="1064.0" cy="547.0" r="1.8" fill="#d8c89a" opacity="0.59"/><circle cx="1050.3" cy="578.2" r="1.4" fill="#e8dcb0" opacity="0.54"/><circle cx="1053.3" cy="589.9" r="2.2" fill="#e8dcb0" opacity="0.66"/><circle cx="1058.0" cy="589.3" r="1.5" fill="#e8dcb0" opacity="0.70"/><circle cx="1044.1" cy="574.9" r="2.3" fill="#f0e6c8" opacity="0.64"/><circle cx="1062.5" cy="561.5" r="1.4" fill="#f0e6c8" opacity="0.38"/><circle cx="1062.3" cy="558.2" r="1.8" fill="#d8c89a" opacity="0.63"/><circle cx="994.8" cy="240.7" r="1.4" fill="#d8c89a" opacity="0.58"/><circle cx="993.9" cy="234.6" r="1.3" fill="#f0e6c8" opacity="0.61"/><circle cx="990.5" cy="237.1" r="1.5" fill="#c8b488" opacity="0.62"/><circle cx="996.5" cy="239.8" r="2.0" fill="#d8c89a" opacity="0.69"/><circle cx="988.5" cy="241.1" r="1.3" fill="#c8b488" opacity="0.36"/><circle cx="1115.5" cy="218.2" r="1.6" fill="#d0c090" opacity="0.26"/><circle cx="1105.5" cy="221.2" r="1.4" fill="#e8dcb0" opacity="0.46"/><circle cx="1123.9" cy="235.0" r="2.3" fill="#f0e6c8" opacity="0.56"/><circle cx="1102.5" cy="220.6" r="1.7" fill="#d8c89a" opacity="0.35"/><circle cx="1120.2" cy="230.9" r="2.1" fill="#d0c090" opacity="0.42"/><circle cx="1109.3" cy="218.9" r="2.1" fill="#d8c89a" opacity="0.59"/><circle cx="927.4" cy="573.0" r="2.2" fill="#d0c090" opacity="0.45"/><circle cx="929.4" cy="577.3" r="1.9" fill="#e8dcb0" opacity="0.62"/><circle cx="932.9" cy="577.4" r="1.9" fill="#d8c89a" opacity="0.40"/><circle cx="927.3" cy="579.6" r="1.5" fill="#d0c090" opacity="0.47"/><circle cx="934.3" cy="576.0" r="1.4" fill="#d8c89a" opacity="0.48"/><circle cx="1074" cy="377" r="1.9" fill="#e8dcb0" opacity="0.8"/><circle cx="1060" cy="400" r="1.9" fill="#e8dcb0" opacity="0.8"/><circle cx="1052" cy="416" r="1.9" fill="#e8dcb0" opacity="0.8"/><circle cx="1127" cy="212" r="1.9" fill="#e8dcb0" opacity="0.8"/><circle cx="1262" cy="223" r="1.9" fill="#e8dcb0" opacity="0.8"/><circle cx="1268" cy="233" r="1.9" fill="#e8dcb0" opacity="0.8"/><circle cx="1205" cy="300" r="1.9" fill="#e8dcb0" opacity="0.8"/><circle cx="988" cy="232" r="1.9" fill="#e8dcb0" opacity="0.8"/><circle cx="982" cy="240" r="1.9" fill="#e8dcb0" opacity="0.8"/><circle cx="1005" cy="214" r="1.9" fill="#e8dcb0" opacity="0.8"/><circle cx="1108" cy="209" r="1.9" fill="#e8dcb0" opacity="0.8"/><circle cx="1040" cy="232" r="1.9" fill="#e8dcb0" opacity="0.8"/><circle cx="1072" cy="470" r="1.9" fill="#e8dcb0" opacity="0.8"/><circle cx="812" cy="300" r="1.9" fill="#e8dcb0" opacity="0.8"/><circle cx="905" cy="470" r="1.9" fill="#e8dcb0" opacity="0.8"/><circle cx="1072" cy="292" r="1.9" fill="#e8dcb0" opacity="0.8"/><circle cx="1160" cy="510" r="1.9" fill="#e8dcb0" opacity="0.8"/><circle cx="1190" cy="545" r="1.9" fill="#e8dcb0" opacity="0.8"/><circle cx="1085" cy="508" r="1.9" fill="#e8dcb0" opacity="0.8"/><circle cx="845" cy="485" r="1.9" fill="#e8dcb0" opacity="0.8"/><circle cx="960" cy="367" r="1.9" fill="#e8dcb0" opacity="0.8"/><circle cx="991" cy="372" r="1.9" fill="#e8dcb0" opacity="0.8"/><circle cx="1003" cy="347" r="1.9" fill="#e8dcb0" opacity="0.8"/></g>
</g>
<circle cx="1005" cy="407" r="18.5" fill="none" stroke="#5fd4d2" stroke-width="2.2"/>
<circle cx="978" cy="453" r="20.3" fill="none" stroke="#cc1f22" stroke-width="2.4"/>
<rect x="1146.3" y="582.5" width="108.5" height="3.6" fill="#f4f4f4"/>
<text x="1200.3" y="599.3" text-anchor="middle" font-size="13.3" font-weight="bold" style="fill:#f0f0f0;stroke:none">20 µm</text>
<text x="0" y="0" font-size="39" style="fill:#f8f8f8;stroke:#f8f8f8;stroke-width:0.5" transform="translate(822.3 251) scale(0.82 1)">B</text>
<text x="0" y="0" font-size="37" style="fill:#f8f8f8;stroke:#f8f8f8;stroke-width:0.4" transform="translate(845.2 248.6) scale(0.85 1)">)</text>
<g>
<g><polyline points="98.5,445.0 98.6,442.9 98.7,441.1 98.7,439.7 98.8,438.5 98.9,436.9 99.0,435.4 99.0,433.3 99.1,431.7 99.2,431.1 99.3,429.9 99.3,428.1 99.4,426.9 99.5,425.4 100.0,423.5 100.5,422.2 101.0,419.9 101.5,418.8 102.8,415.6 104.0,415.1 104.4,417.0 104.8,420.1 105.2,421.4 105.7,421.9 106.1,422.9 106.5,424.2 106.8,423.1 107.0,422.5 107.2,420.8 107.5,417.9 107.8,415.4 108.0,414.3 108.2,414.6 108.5,412.8 109.0,411.2 109.5,408.6 110.0,406.6 110.5,405.4 111.0,403.3 111.5,402.8 112.3,401.2 113.2,400.8 114.0,398.7 114.8,397.0 115.7,396.4 116.5,395.7 117.8,395.5 119.0,393.4 120.2,393.3 121.5,391.6 122.6,390.0 123.8,388.0 124.9,387.1 126.0,385.4 128.0,384.0 130.0,383.3 131.3,386.0 132.6,387.1 133.9,387.2 135.2,388.3 136.5,389.1 138.0,390.1 139.5,389.4 141.0,389.3 142.5,388.1 144.0,387.6 145.7,388.2 147.4,388.6 149.1,389.3 150.8,390.1 152.5,391.2 153.9,390.4 155.4,389.4 156.8,388.4 158.2,388.6 159.7,388.7 161.1,387.4 162.6,387.8 164.0,386.9 165.5,389.5 167.0,388.7 168.5,389.3 170.0,389.0 171.5,390.3 173.0,391.0 174.5,392.2 176.0,392.1 177.5,393.7 179.2,393.0 180.8,394.5 182.5,393.8 184.2,393.5 185.8,393.1 187.5,394.4 189.0,394.3 190.5,393.4 192.0,391.3 193.5,390.2 195.0,389.0 196.4,388.0 197.9,387.2 199.3,387.1 200.7,388.0 202.1,388.4 203.6,388.1 205.0,386.9 206.7,385.8 208.3,385.2 210.0,384.4 211.7,384.9 213.3,385.0 215.0,385.5 216.2,384.1 217.5,383.0 218.8,381.0 220.0,379.7 221.2,378.1 222.5,376.9 223.8,375.6 225.0,374.4 226.2,373.8 227.5,372.5 228.8,373.1 230.0,372.6 231.2,372.7 232.5,371.1 233.8,370.1 235.0,369.5 236.3,368.4 237.7,367.9 239.0,365.5 240.3,364.8 241.6,363.5 242.9,363.9 244.3,362.6 245.6,361.7 246.8,361.1 248.0,359.7 249.2,358.8 250.4,356.9 251.6,356.1 252.8,356.1 254.0,356.1 255.2,355.2 256.4,353.5 257.6,351.5 258.8,349.4 260.0,348.1 261.2,347.0 262.4,346.2 263.6,343.7 264.8,343.5 265.9,343.3 267.1,343.6 268.3,341.4 269.5,340.1 270.7,339.4 271.9,338.4 273.1,337.4 274.3,335.1 275.5,334.4 276.7,332.7 277.9,331.8 279.0,330.5 280.2,330.4 281.4,329.7 282.6,328.5 283.8,326.9 285.0,325.6 286.2,324.8 287.5,323.4 288.8,322.7 290.0,321.8 291.2,321.3 292.5,321.1 293.8,319.6 295.0,318.8 296.1,315.7 297.1,315.8 298.2,313.9 299.3,313.0 300.4,310.9 301.4,309.7 302.5,308.5 303.6,307.9 304.6,307.6 305.7,307.1 306.8,305.5 307.9,304.3 308.9,302.9 310.0,301.6 311.1,300.7 312.2,299.4 313.3,298.3 314.4,297.0 315.5,296.2 316.5,295.1 317.6,293.6 318.7,292.6 319.8,291.6 320.9,290.7 322.0,290.1 323.0,289.7 324.0,287.7 325.0,286.2 326.0,284.4 327.0,282.8 328.0,281.1 329.0,279.8 330.0,278.7 331.0,278.1 332.0,277.5 333.0,276.6 334.0,275.9 335.0,275.9 336.0,275.2 337.0,273.1 338.0,269.9 339.0,267.4 340.0,265.7 341.2,265.2 342.5,265.4 343.8,265.2 345.0,263.7 346.2,262.7 347.5,261.5 348.8,259.8 350.0,258.9 351.0,257.5 352.0,256.1 353.0,253.8 354.0,252.1 355.0,252.8 356.0,253.1 357.0,252.6 358.0,249.8 359.0,247.8 360.0,245.9 361.1,245.4 362.2,244.3 363.3,242.2 364.4,240.8 365.6,239.8 366.7,239.3 367.8,237.3 368.9,235.9 370.0,234.6 371.0,234.0 372.0,232.5 373.0,231.4 374.0,229.5 375.0,229.4 376.0,228.1 377.0,227.7 378.0,225.3 379.0,224.5 380.0,222.5 381.0,220.9 382.0,219.1 383.0,219.3 384.0,218.2 385.0,217.2 386.0,215.9 387.0,215.4 388.0,215.3 389.0,213.9 390.0,212.6 391.0,210.4 392.0,209.7 393.0,208.4 394.0,207.2 395.0,205.2 396.0,204.0 397.0,204.0 398.0,204.2 399.0,203.0 400.0,201.6 401.1,198.9 402.1,197.8 403.2,195.9 404.3,195.3 405.4,194.6 406.4,194.0 407.5,192.7 408.6,191.3 409.6,189.8 410.7,189.1 411.8,187.9 412.9,187.3 413.9,186.5 415.0,185.3 416.0,184.7 417.0,181.9 418.0,180.8 419.0,179.3 420.0,179.2 421.0,177.8 422.0,175.9 423.0,175.7 424.0,175.9 425.0,174.3 426.0,172.0 427.0,169.6 428.0,169.9 429.0,168.9 430.0,168.3 431.0,166.5 432.0,165.4 433.0,163.9 434.0,163.2 435.0,162.0 436.0,160.5 437.0,158.8 438.0,156.9 439.0,156.3 440.0,155.0 441.0,154.0 442.0,151.8 443.0,151.9 444.0,151.2 445.0,151.9 446.2,149.0 447.5,147.9 448.8,146.6 450.0,146.0 451.2,144.5 452.5,141.5 453.8,139.4 455.0,139.0 456.2,139.4 457.5,139.4 458.8,138.3 460.0,137.0 461.2,136.0 462.5,134.9 463.8,133.9 465.0,132.9 466.5,131.9 468.0,131.5 469.5,131.5 471.0,132.5 472.5,131.7 474.0,130.2 475.5,127.7 477.0,127.3 478.5,127.1 480.0,126.7 481.5,126.0 483.0,124.8 484.5,124.0 486.0,122.9 487.5,122.4 489.0,122.0 490.5,121.1 492.0,120.5 493.5,119.4 495.0,120.2 496.5,120.5 498.0,120.0 499.5,118.6 501.0,117.3 502.5,117.2 504.0,117.1 505.5,116.8 507.0,115.7 508.5,114.0 510.0,112.1 511.5,112.4 513.0,112.1 514.5,112.6 516.0,111.8 517.5,111.3 519.0,110.8 520.5,111.4 522.0,110.9 523.5,110.2 525.0,109.0 526.5,108.7 528.0,108.8 529.5,108.5 531.0,107.3 532.5,106.6 534.0,105.0 535.5,103.8 537.0,102.4 538.5,102.4 540.0,101.7 541.5,102.3 543.0,101.5 544.5,102.1 546.0,100.5 547.5,99.4 549.0,98.5 550.5,98.5 552.0,98.1 553.5,97.9 555.0,96.6 556.5,95.8 558.0,94.7 559.5,94.9 561.0,94.5 562.5,94.8 564.0,94.1 565.5,93.9 567.0,93.1 568.5,93.5 570.0,93.8 571.5,93.6 573.0,91.9 574.5,90.1 576.0,89.6 577.5,89.8 579.0,90.2 580.5,89.3 582.0,88.4 583.5,87.5 585.0,86.5 586.5,86.1 588.0,85.5 589.5,84.0 591.0,82.9 592.5,82.0 594.0,81.7 595.5,81.8 597.0,82.6 598.5,82.1 600.0,81.0 601.5,79.1 602.9,79.3 604.4,78.1 605.8,77.7 607.3,77.7 608.7,77.6 610.2,76.8 611.6,75.4 613.1,74.3 614.5,73.8 616.0,72.8 617.6,73.5 619.1,72.3 620.7,72.7 622.2,71.3 623.8,71.7 625.3,71.0 626.9,70.8 628.4,71.4 630.0,72.1 631.2,70.7 632.5,68.4 633.8,67.6 635.0,68.2 636.2,68.3 637.5,65.1 639.1,65.0 640.6,64.2 642.2,66.0 643.8,64.9 645.3,65.9 646.9,65.5 648.4,66.6 650.0,66.0 651.3,65.7 652.7,64.0 654.0,64.0 655.3,62.9 656.7,64.5 658.0,64.1 659.3,62.1 660.7,59.8 662.0,59.6 663.6,60.6 665.2,59.9 666.9,58.4 668.5,59.8 670.1,61.0 671.8,62.1 673.4,59.9 675.0,58.7 676.2,55.9 677.5,55.8 678.8,55.6 680.0,54.6 681.6,55.5 683.1,57.1 684.7,57.5 686.3,56.9 687.9,55.6 689.4,57.0 691.0,56.2 692.6,57.3 694.3,57.7 695.9,59.5 697.6,58.7 699.2,61.0 700.9,60.3 702.5,60.9 704.0,57.6 705.5,58.9 707.0,58.6 708.5,59.1 710.0,57.7 711.5,59.7 713.0,58.6 714.5,58.2 716.0,54.8 717.5,54.8 718.6,55.3 719.7,57.2 720.8,59.3 721.9,61.4 723.0,61.8 724.4,60.5 725.7,59.3 727.1,60.2 728.4,58.6 729.8,58.2 731.1,55.3 732.5,55.1 734.0,56.0 735.5,57.9 737.0,57.7 738.5,58.9 740.0,58.8 741.2,58.9 742.5,58.9 743.8,62.9 745.0,63.7 746.2,63.9 747.5,61.5 748.1,64.8 748.7,66.8 749.2,68.3 749.8,68.9 750.4,72.9 751.0,73.2 751.8,72.5 752.6,67.6 753.4,68.0 754.2,68.2 755.0,67.5 755.8,69.9 756.7,69.7 757.5,71.5 758.3,72.0 759.2,72.6 760.0,74.9 760.8,76.2 761.7,75.4 762.5,74.8 763.8,74.1 765.0,76.3 766.2,75.6 767.5,73.4 768.8,70.2 770.0,70.1 771.5,71.7 773.0,73.5 774.5,72.6 776.0,73.7 777.5,74.4 778.2,75.9 778.9,77.0 779.6,79.7 780.3,79.1 781.0,80.9 782.5,79.1 784.0,80.6" fill="none" stroke="#1414c8" stroke-width="3.2" stroke-linejoin="round" stroke-linecap="round"/><polyline points="97.5,510.0 97.8,509.4 98.0,507.3 98.2,504.9 98.5,503.4 98.8,501.8 99.0,500.2 99.2,498.7 99.5,497.6 99.8,496.8 100.0,494.9 100.8,493.4 101.5,491.7 102.2,490.0 103.0,488.7 103.8,487.3 104.2,487.0 104.7,485.3 105.2,483.6 105.6,481.7 106.1,480.1 106.6,478.9 107.0,476.8 107.5,475.3 108.2,473.8 109.0,472.6 109.8,471.1 110.5,468.9 111.2,467.3 111.8,465.7 112.3,464.7 112.9,463.0 113.4,461.7 113.9,459.9 114.5,458.3 115.0,456.5 116.2,455.1 117.5,453.9 118.8,452.5 120.0,452.4 121.2,451.5 122.5,450.8 123.6,449.3 124.6,448.2 125.7,446.4 126.8,445.4 127.9,444.3 128.9,444.0 130.0,442.2 131.4,441.4 132.9,440.9 134.3,441.1 135.7,440.1 137.1,438.5 138.6,437.3 140.0,437.3 141.4,437.1 142.9,436.5 144.3,435.2 145.7,434.6 147.1,434.2 148.6,433.6 150.0,432.2 151.4,430.9 152.8,430.6 154.2,429.8 155.6,429.4 156.9,428.1 158.3,427.9 159.7,427.2 161.1,426.8 162.5,426.7 164.1,426.3 165.6,426.1 167.2,424.9 168.8,424.0 170.3,423.0 171.9,421.5 173.4,421.0 175.0,420.3 176.4,420.2 177.8,419.7 179.2,418.7 180.6,417.6 181.9,416.7 183.3,415.9 184.7,415.8 186.1,415.1 187.5,415.2 188.8,414.6 190.0,413.8 191.2,412.7 192.5,411.2 193.8,410.8 195.0,409.5 196.2,409.1 197.5,407.2 198.8,406.2 200.0,404.8 201.2,404.8 202.5,404.2 203.6,402.9 204.6,401.0 205.7,399.2 206.8,398.2 207.9,396.8 208.9,396.3 210.0,394.6 211.2,393.3 212.5,391.4 213.8,390.2 215.0,389.2 215.9,388.2 216.8,387.3 217.6,386.2 218.5,385.2 219.4,383.2 220.3,381.7 221.2,379.4 222.0,378.5 222.9,377.7 223.8,376.9 224.6,375.5 225.3,373.6 226.1,372.4 226.9,371.2 227.7,369.6 228.4,368.7 229.2,367.7 230.0,366.6 230.7,365.0 231.5,363.7 232.3,362.8 233.0,361.5 233.8,360.3 234.6,358.5 235.4,356.8 236.1,355.1 236.9,354.2 237.8,353.6 238.6,352.5 239.5,350.6 240.4,349.1 241.3,348.3 242.1,347.6 243.0,346.0 243.9,344.1 244.8,341.9 245.6,340.4 246.5,339.2 247.4,338.3 248.3,337.7 249.1,336.8 250.0,335.7 250.9,334.5 251.8,332.6 252.6,330.7 253.5,329.1 254.4,328.9 255.3,328.0 256.2,326.2 257.1,324.1 257.9,323.1 258.8,321.9 259.7,320.7 260.6,318.7 261.5,318.2 262.4,316.9 263.2,315.9 264.1,314.8 265.0,313.1 265.8,311.6 266.7,310.3 267.5,308.8 268.3,308.6 269.2,306.7 270.0,305.4 270.8,303.4 271.7,302.2 272.5,301.4 273.3,300.0 274.2,299.1 275.0,297.0 275.8,295.7 276.7,294.0 277.5,294.1 278.3,292.4 279.2,291.1 280.0,288.8 280.8,288.0 281.5,287.0 282.3,286.2 283.1,285.6 283.8,283.9 284.6,282.5 285.4,281.1 286.2,280.3 286.9,278.8 287.7,277.5 288.5,275.6 289.2,275.0 290.0,273.3 290.9,272.3 291.8,270.6 292.7,269.5 293.6,268.9 294.5,267.5 295.5,265.8 296.4,264.1 297.3,262.6 298.2,260.9 299.1,259.7 300.0,258.6 300.8,258.2 301.7,256.2 302.5,253.9 303.3,252.3 304.2,251.3 305.0,251.4 305.8,250.1 306.7,248.8 307.5,247.1 308.3,245.4 309.2,244.0 310.0,242.0 310.8,240.9 311.5,239.3 312.3,238.2 313.1,236.9 313.8,236.2 314.6,234.6 315.4,233.7 316.2,231.9 316.9,231.1 317.7,229.4 318.5,228.4 319.2,226.8 320.0,225.7 320.8,224.7 321.7,223.5 322.5,221.1 323.3,219.3 324.2,218.3 325.0,217.7 325.8,216.4 326.7,214.5 327.5,213.1 328.3,212.4 329.2,211.5 330.0,210.7 330.8,208.9 331.7,207.9 332.5,206.1 333.3,205.1 334.2,204.1 335.0,203.0 335.8,201.8 336.7,199.9 337.5,198.5 338.3,197.8 339.2,197.1 340.0,196.2 340.8,194.5 341.7,193.1 342.5,191.6 343.3,190.5 344.2,189.0 345.0,187.8 345.8,187.0 346.7,186.2 347.5,185.3 348.3,182.9 349.2,181.7 350.0,180.2 350.8,179.4 351.7,177.6 352.5,176.5 353.3,175.8 354.2,174.8 355.0,173.2 355.8,171.6 356.7,170.3 357.5,169.0 358.3,167.4 359.2,165.7 360.0,164.4 360.8,163.6 361.7,163.3 362.5,161.7 363.3,160.5 364.2,158.4 365.0,157.7 365.8,156.8 366.7,156.0 367.5,154.6 368.3,152.7 369.2,150.6 370.0,149.3 371.0,148.8 372.0,148.0 373.0,147.1 374.0,145.7 375.0,144.8 376.0,143.7 377.0,142.3 378.0,140.7 379.0,138.8 380.0,138.0 381.0,137.0 382.0,136.1 383.0,134.9 384.0,133.6 385.0,133.1 386.1,131.9 387.3,130.9 388.4,128.9 389.5,127.9 390.7,126.6 391.8,125.4 393.0,123.9 394.1,123.3 395.2,122.3 396.4,121.3 397.5,120.0 398.8,118.7 400.0,117.8 401.2,116.8 402.5,115.5 403.8,114.8 405.0,113.1 406.2,112.4 407.5,111.2 408.8,111.3 410.0,110.5 411.2,109.3 412.5,108.3 413.8,107.4 415.0,106.8 416.2,104.8 417.5,104.1 418.8,102.8 420.0,103.2 421.2,102.5 422.5,102.2 423.8,100.9 425.0,99.9 426.2,98.7 427.5,98.0 428.8,97.0 430.0,96.0 431.2,95.7 432.5,95.1 433.8,93.9 435.0,92.6 436.2,91.1 437.5,90.8 438.8,89.5 440.0,88.9 441.2,88.2 442.5,87.4 443.8,86.3 445.0,85.3 446.2,84.7 447.5,84.9 448.8,83.9 450.0,82.6 451.5,81.2 453.0,80.9 454.5,80.4 456.0,79.7 457.5,79.0 459.0,78.7 460.5,78.4 462.0,77.4 463.5,76.5 465.0,75.7 466.5,75.2 467.9,74.7 469.4,74.4 470.8,74.0 472.3,73.6 473.8,73.0 475.2,71.9 476.7,70.7 478.1,70.2 479.6,69.9 481.0,69.7 482.5,68.4 484.0,67.8 485.4,67.0 486.9,66.6 488.3,66.0 489.8,65.1 491.2,64.9 492.7,65.0 494.2,64.8 495.6,64.2 497.1,63.0 498.5,62.9 500.0,63.0 501.5,62.6 503.0,61.9 504.5,61.4 506.0,61.5 507.5,61.3 509.0,59.7 510.5,59.2 512.0,59.1 513.5,59.9 515.0,59.7 516.5,59.0 518.0,58.0 519.5,57.0 521.0,56.6 522.5,56.9 524.0,57.2 525.5,56.9 527.0,56.7 528.5,55.9 530.0,56.6 531.5,56.1 533.0,56.9 534.5,56.9 536.0,57.2 537.5,57.6 539.0,57.5 540.5,57.4 542.0,56.9 543.5,56.6 545.0,56.6 546.4,56.7 547.9,57.0 549.3,57.2 550.8,57.4 552.2,56.9 553.7,56.1 555.1,54.4 556.6,53.6 558.0,53.7 559.3,55.2 560.7,56.0 562.0,56.2 563.5,56.1 565.0,56.5 566.5,56.7 568.0,57.2 569.5,58.4 571.0,59.9 572.5,60.7 574.0,60.8 575.5,60.3 577.0,60.7 578.5,61.0 580.0,62.1 581.5,62.6 583.0,62.7 584.5,62.4 586.0,61.7 587.4,61.8 588.9,62.6 590.3,63.5 591.8,64.2 593.2,65.0 594.6,65.5 596.1,65.9 597.5,65.8 599.1,66.1 600.7,66.3 602.3,66.6 603.9,67.2 605.5,67.9 607.1,68.7 608.8,69.5 610.4,69.9 612.0,70.7 613.6,70.6 615.2,71.4 616.8,71.4 618.4,71.1 620.0,71.2 621.4,71.9 622.8,72.8 624.1,73.4 625.5,74.4 626.9,75.6 628.2,76.3 629.6,77.4 631.0,79.2 632.6,79.9 634.3,80.3 635.9,80.3 637.6,79.2 639.2,78.7 640.9,78.6 642.5,78.6 644.1,79.5 645.7,80.2 647.3,81.2 648.9,81.2 650.5,81.0 652.1,81.7 653.8,82.2 655.4,82.2 657.0,81.6 658.6,81.5 660.2,81.1 661.8,81.5 663.4,81.2 665.0,80.5 666.6,79.9 668.1,79.9 669.7,80.4 671.3,81.2 672.9,81.6 674.4,81.9 676.0,81.3 677.6,81.0 679.3,81.6 680.9,82.2 682.6,83.4 684.2,83.6 685.9,84.5 687.5,84.2 689.1,84.8 690.7,84.1 692.3,84.9 693.9,85.6 695.5,86.9 697.1,87.2 698.8,87.5 700.4,88.0 702.0,88.1 703.6,88.5 705.2,88.1 706.8,88.9 708.4,88.3 710.0,88.7 711.6,89.2 713.1,89.7 714.7,89.9 716.3,89.8 717.9,90.3 719.4,90.8 721.0,91.0 722.5,91.4 724.1,91.8 725.6,92.1 727.2,93.2 728.8,93.7 730.2,93.6 731.6,91.9 733.1,91.5 734.5,90.0 736.0,89.6 737.1,90.7 738.2,92.0 739.3,92.6 740.4,93.3 741.5,94.5 742.6,96.4 743.8,97.3 745.0,98.2 746.2,99.0 747.4,99.7 748.6,100.7 749.8,101.3 751.0,102.9 752.5,102.8 754.1,102.8 755.6,101.7 757.2,101.5 758.8,101.2 760.4,101.9 762.0,101.8 763.6,101.7 765.2,102.2 766.8,102.7 768.4,103.4 770.0,103.3 771.5,104.2 773.0,104.9 774.5,105.3 776.0,105.3 777.5,105.0 779.1,105.5 780.8,106.1 782.4,107.3 784.0,106.9" fill="none" stroke="#55539c" stroke-width="3.2" stroke-linejoin="round" stroke-linecap="round"/><polyline points="99.0,340.0 99.4,339.4 99.8,336.6 100.2,335.7 100.7,333.1 101.1,331.2 101.5,328.7 101.6,327.3 101.7,325.6 101.9,324.1 102.0,323.0 102.1,321.4 102.2,320.3 102.3,318.7 102.5,316.0 102.6,314.8 102.7,313.3 102.8,313.0 102.9,311.0 103.0,309.8 103.2,308.6 103.3,306.5 103.4,304.9 103.5,302.6 103.6,302.2 103.8,299.9 103.9,299.0 104.0,296.8 104.1,299.0 104.2,300.5 104.3,302.2 104.4,301.8 104.5,303.3 104.6,304.4 104.7,307.5 104.8,309.8 104.9,310.9 105.0,312.5 105.1,312.3 105.2,314.4 105.3,315.1 105.4,316.8 105.5,319.4 105.6,322.1 105.7,324.3 105.8,324.7 105.9,325.2 106.0,326.1 106.1,327.8 106.2,328.9 106.3,331.1 106.4,331.5 106.5,334.1 106.6,331.9 106.7,332.1 106.8,331.1 106.9,329.9 107.0,326.5 107.2,324.1 107.3,322.8 107.4,321.7 107.5,320.7 107.6,319.7 107.7,318.7 107.8,316.8 107.9,315.2 108.0,313.5 108.1,312.7 108.2,310.6 108.3,310.0 108.5,307.9 108.6,306.0 108.7,303.7 108.8,302.0 108.9,300.6 109.0,298.9 109.4,301.3 109.8,302.4 110.2,304.1 110.7,305.3 111.1,308.0 111.5,310.1 111.7,308.0 111.8,306.9 112.0,304.9 112.2,304.1 112.3,302.1 112.5,300.6 112.7,298.8 112.8,297.6 113.0,297.3 113.2,296.6 113.3,295.4 113.5,293.1 113.7,290.8 113.8,289.2 114.0,288.5 115.0,289.5 116.0,291.2 117.0,292.1 119.0,290.9 119.5,289.4 120.0,288.1 120.5,287.6 121.0,286.4 121.5,285.0 124.0,284.0 125.1,282.7 126.1,280.9 127.2,279.8 128.3,278.1 129.4,277.3 130.4,276.8 131.5,275.9 132.8,274.9 134.0,273.6 135.2,272.9 136.5,272.4 137.8,271.4 139.0,269.9 140.5,268.4 142.0,268.2 143.5,268.6 145.0,269.2 146.5,268.4 148.2,268.8 150.0,268.1 151.5,268.3 153.0,267.3 154.5,268.2 156.0,266.5 157.5,266.2 159.0,265.4 160.2,266.6 161.5,267.4 162.8,268.6 164.0,270.0 165.2,271.4 166.5,271.6 168.2,270.6 169.9,269.9 171.6,269.5 173.3,269.7 175.0,270.1 176.5,270.5 178.0,270.4 179.5,269.9 181.0,270.9 182.5,271.6 184.0,272.3 185.5,272.1 187.0,272.5 188.5,272.7 190.0,273.4 191.5,273.2 193.0,271.3 194.5,270.3 196.0,271.0 197.5,271.4 199.0,271.1 200.5,269.8 202.0,270.1 203.5,270.3 205.0,268.8 206.5,268.0 208.0,267.1 209.5,267.3 211.0,267.2 212.5,267.5 214.0,267.9 215.5,268.3 217.0,267.7 218.5,267.6 220.0,267.4 221.5,266.7 223.0,266.3 224.5,266.1 226.0,266.0 227.5,265.6 229.0,264.3 230.5,263.7 232.0,262.6 233.5,263.3 235.0,263.2 236.5,263.8 238.0,263.3 239.5,262.2 241.0,260.0 242.5,258.8 244.0,258.2 245.5,258.0 247.0,256.5 248.5,256.3 250.0,255.9 251.4,256.1 252.9,255.4 254.3,254.4 255.7,252.5 257.1,251.7 258.6,251.3 260.0,251.7 261.4,251.8 262.9,251.5 264.3,252.0 265.7,251.1 267.1,251.0 268.6,250.0 270.0,249.8 271.4,248.1 272.9,247.6 274.3,246.6 275.7,246.0 277.1,245.1 278.6,244.5 280.0,244.9 281.4,244.2 282.9,243.5 284.3,241.3 285.7,241.1 287.1,240.9 288.6,241.4 290.0,240.1 291.4,239.4 292.9,238.1 294.3,237.7 295.7,236.5 297.1,235.9 298.6,235.2 300.0,234.9 301.4,235.5 302.7,235.1 304.1,233.5 305.5,231.0 306.8,229.8 308.2,229.8 309.5,229.6 310.9,228.2 312.3,227.6 313.6,226.8 315.0,226.5 316.4,226.3 317.9,226.3 319.3,225.5 320.7,223.8 322.1,222.9 323.6,223.4 325.0,223.0 326.5,223.5 328.0,221.7 329.5,221.4 331.0,220.3 332.5,219.9 334.0,219.5 335.5,218.0 337.0,218.2 338.5,218.2 340.0,218.1 341.4,217.3 342.9,216.0 344.3,214.7 345.7,215.4 347.1,215.4 348.6,216.4 350.0,214.7 351.5,213.9 353.0,214.2 354.5,212.6 356.0,211.9 357.5,210.0 359.0,210.3 360.5,210.3 362.0,209.6 363.5,208.6 365.0,207.2 366.2,206.8 367.5,207.0 368.8,207.0 370.0,206.6 371.2,204.8 372.5,204.0 373.8,202.5 375.0,201.8 376.5,200.4 378.0,200.0 379.5,199.3 381.0,199.1 382.5,197.6 384.0,198.4 385.5,198.0 387.0,197.8 388.5,196.3 390.0,195.8 391.2,195.1 392.5,193.5 393.8,192.0 395.0,191.3 396.5,192.1 398.0,191.5 399.5,190.7 401.0,189.3 402.5,188.0 404.0,187.2 405.5,186.3 407.0,187.2 408.5,186.7 410.0,186.6 411.4,184.6 412.7,184.0 414.1,182.2 415.5,182.3 416.8,182.1 418.2,181.7 419.5,181.2 420.9,180.4 422.3,180.1 423.6,179.5 425.0,178.0 426.5,177.3 427.9,175.1 429.4,173.9 430.9,172.9 432.4,174.5 433.8,174.5 435.3,174.6 436.8,172.2 438.2,172.3 439.7,171.2 441.2,172.1 442.6,171.1 444.1,171.2 445.6,169.5 447.1,168.4 448.5,167.1 450.0,167.1 451.5,167.4 452.9,168.0 454.4,167.6 455.9,165.9 457.4,165.0 458.8,163.4 460.3,163.0 461.8,162.7 463.2,163.9 464.7,163.6 466.2,162.7 467.6,159.9 469.1,159.4 470.6,158.4 472.1,158.0 473.5,156.7 475.0,156.6 476.4,156.3 477.7,156.5 479.1,155.4 480.5,154.8 481.8,154.3 483.2,154.0 484.5,153.5 485.9,152.6 487.3,151.5 488.6,149.7 490.0,147.7 491.4,146.0 492.7,145.9 494.1,145.4 495.5,145.6 496.8,145.1 498.2,144.1 499.5,143.2 500.9,142.6 502.3,142.3 503.6,141.9 505.0,140.4 506.4,139.2 507.7,137.9 509.1,136.4 510.5,136.6 511.8,135.7 513.2,136.7 514.5,135.0 515.9,134.7 517.3,133.5 518.6,133.3 520.0,132.8 521.5,131.7 523.0,130.8 524.5,129.4 526.0,129.0 527.5,128.6 529.0,128.9 530.5,128.5 532.0,128.1 533.5,127.1 535.0,125.8 536.5,125.5 538.0,125.6 539.5,125.4 541.0,124.9 542.5,124.5 544.0,124.4 545.5,124.1 547.0,123.0 548.5,124.1 550.0,124.2 551.4,124.4 552.7,122.1 554.1,121.0 555.5,119.7 556.8,119.5 558.2,118.2 559.5,117.7 560.9,116.4 562.3,116.2 563.6,116.3 565.0,115.3 566.4,113.8 567.7,112.5 569.1,112.9 570.5,112.7 571.8,112.1 573.2,111.2 574.5,111.0 575.9,110.7 577.3,109.5 578.6,108.9 580.0,107.6 581.4,106.9 582.7,106.1 584.1,104.7 585.5,103.6 586.8,103.2 588.2,102.6 589.5,103.6 590.9,102.9 592.3,102.5 593.6,100.5 595.0,98.2 596.4,97.7 597.7,96.6 599.1,97.9 600.5,96.4 601.8,96.6 603.2,93.7 604.5,93.7 605.9,93.6 607.3,94.1 608.6,93.2 610.0,91.6 611.5,91.4 613.0,91.6 614.5,91.1 616.0,89.3 617.5,88.4 619.0,88.4 620.5,90.0 622.0,89.3 623.5,88.3 625.0,86.1 626.5,85.8 628.0,86.1 629.5,85.2 631.0,84.2 632.5,82.0 634.0,81.5 635.5,80.7 637.0,81.0 638.5,80.3 640.0,79.6 641.5,79.6 643.0,80.0 644.5,80.2 646.0,79.0 647.5,78.1 649.0,77.4 650.5,77.0 652.0,76.6 653.5,76.6 655.0,75.7 656.5,75.9 658.0,74.7 659.5,74.7 661.0,73.0 662.5,72.1 664.0,70.2 665.5,71.1 667.0,71.4 668.5,72.0 670.0,71.1 671.5,69.5 673.0,68.9 674.5,67.5 676.0,66.1 677.5,65.3 679.0,64.4 680.5,66.7 682.0,65.8 683.5,65.5 685.0,64.6 686.7,65.7 688.3,65.5 690.0,65.2 691.7,64.9 693.3,68.2 695.0,67.4 696.5,67.5 698.0,63.4 699.5,63.9 701.0,66.5 702.5,69.2 704.0,69.0 705.5,67.6 707.0,67.5 708.5,68.6 710.0,70.9 711.5,73.4 713.0,75.2 714.5,74.5 716.0,71.5 717.5,67.8 719.0,66.8 720.5,68.3 722.0,70.5 723.5,69.7 725.0,70.1 726.2,69.7 727.5,69.2 728.8,68.0 730.0,66.2 731.2,64.6 732.5,64.7 734.1,65.2 735.7,68.5 737.3,68.2 738.9,69.1 740.5,68.6 742.1,67.8 743.8,68.0 745.4,66.2 747.0,66.8 748.6,67.9 750.2,71.0 751.8,71.6 753.4,69.4 755.0,65.7 756.5,62.0 758.0,63.5 759.5,65.0 761.0,67.0 762.5,65.8 763.3,64.0 764.1,62.8 764.9,61.9 765.6,60.1 766.4,56.9 767.2,56.0 768.0,56.1 769.1,56.4 770.3,55.9 771.5,53.6 772.6,57.7 773.8,58.7 774.7,63.7 775.6,65.9 776.6,67.1 777.5,65.8 779.1,62.5 780.8,63.0 782.4,61.5 784.0,61.9" fill="none" stroke="#939364" stroke-width="3.2" stroke-linejoin="round" stroke-linecap="round"/><polyline points="99.0,375.0 99.8,376.6 100.5,378.4 101.2,379.4 102.0,381.2 102.8,383.0 102.9,381.5 103.1,380.0 103.2,378.1 103.4,376.9 103.5,375.3 103.7,373.7 103.8,371.4 104.0,369.7 104.2,367.8 104.3,366.2 104.5,364.2 104.6,362.3 104.8,361.1 104.9,359.9 105.1,358.8 105.2,357.4 105.4,355.5 105.6,354.1 105.8,352.6 105.9,351.8 106.1,350.0 106.2,348.3 106.4,345.9 106.6,344.5 106.8,342.4 106.9,341.1 107.1,340.2 107.2,338.7 107.4,337.9 107.6,336.1 107.8,335.3 107.9,336.7 108.1,338.3 108.3,340.3 108.5,341.6 108.7,342.8 108.9,343.8 109.1,345.0 109.3,346.8 109.5,348.2 109.7,350.5 109.9,351.4 110.1,352.8 110.2,353.7 110.5,352.1 110.7,351.6 110.9,349.6 111.1,348.6 111.3,346.3 111.5,346.1 111.7,344.0 111.9,343.0 112.1,340.7 112.3,339.8 112.5,337.7 112.8,336.6 113.0,334.7 113.2,333.4 113.4,331.8 113.6,331.3 113.8,329.0 114.0,327.8 114.2,325.9 114.5,325.0 114.7,323.0 114.9,321.0 115.2,320.1 115.4,318.5 115.6,317.0 115.8,314.8 116.1,313.1 116.3,311.5 116.5,309.7 116.8,308.9 117.0,306.8 117.8,304.4 118.6,302.2 119.3,301.4 120.1,301.3 120.9,299.8 121.7,298.3 122.4,296.9 123.2,295.8 124.0,294.3 125.0,292.8 126.0,292.0 127.0,291.1 128.0,289.7 129.0,288.6 130.0,287.5 131.0,286.4 132.0,284.1 133.0,282.7 134.0,281.4 135.0,280.3 136.0,278.5 137.0,277.4 138.0,277.0 139.0,276.1 140.0,274.5 141.0,273.2 142.0,272.2 143.0,271.7 144.0,270.7 145.2,269.6 146.5,268.3 147.8,266.9 149.0,265.6 150.2,264.8 151.5,264.3 152.8,263.7 154.0,262.4 155.1,260.7 156.2,259.1 157.3,257.7 158.4,256.4 159.6,255.2 160.7,254.1 161.8,252.5 162.9,251.7 164.0,250.6 165.3,249.9 166.7,248.2 168.1,247.3 169.4,247.2 170.8,246.9 172.1,245.9 173.4,244.5 174.8,244.1 176.2,243.1 177.5,242.7 178.8,241.4 180.0,241.0 181.2,239.7 182.5,238.7 183.8,236.9 185.0,235.7 186.2,234.7 187.5,234.4 188.8,233.7 190.0,232.6 191.0,231.2 192.0,230.2 193.0,229.2 194.0,227.6 195.0,225.9 196.0,225.0 197.0,224.1 198.0,222.6 199.0,221.2 200.0,219.7 200.8,218.5 201.7,217.5 202.5,216.7 203.3,215.4 204.2,213.8 205.0,212.5 205.8,211.2 206.7,209.9 207.5,208.7 208.3,207.1 209.2,206.0 210.0,204.8 210.8,204.3 211.7,202.5 212.5,201.1 213.3,199.4 214.2,198.8 215.0,197.6 215.8,196.7 216.7,195.0 217.5,193.4 218.3,192.3 219.2,191.0 220.0,190.2 220.8,188.7 221.5,187.6 222.3,186.8 223.1,185.3 223.8,184.8 224.6,182.0 225.4,179.9 226.2,178.1 226.9,177.7 227.7,177.0 228.5,175.3 229.2,173.1 230.0,171.6 230.8,170.0 231.5,169.2 232.3,168.3 233.1,167.4 233.8,166.2 234.6,164.3 235.4,162.8 236.2,161.4 236.9,160.2 237.7,159.4 238.5,157.7 239.2,157.1 240.0,155.0 240.8,154.4 241.7,152.3 242.5,151.9 243.3,150.3 244.2,149.5 245.0,147.9 245.8,146.4 246.7,144.7 247.5,142.5 248.3,141.9 249.2,140.7 250.0,140.0 250.9,138.3 251.9,138.0 252.8,136.3 253.8,135.2 254.7,133.1 255.6,132.6 256.6,130.7 257.5,129.4 258.4,128.3 259.4,128.2 260.3,127.6 261.2,125.8 262.2,124.0 263.1,122.2 264.1,120.8 265.0,119.0 266.2,118.4 267.3,117.9 268.5,117.4 269.6,116.6 270.8,115.2 271.9,114.5 273.1,113.1 274.2,112.5 275.4,111.5 276.5,110.6 277.7,109.7 278.8,108.7 280.0,108.3 281.2,107.2 282.5,106.5 283.8,105.1 285.0,104.2 286.2,103.2 287.5,101.7 288.8,101.3 290.0,99.8 291.1,98.8 292.3,97.4 293.4,96.8 294.5,96.1 295.7,95.2 296.8,93.7 298.0,92.0 299.1,90.7 300.2,89.7 301.4,88.6 302.5,87.6 303.9,86.9 305.3,86.2 306.7,85.3 308.1,84.1 309.4,83.4 310.8,82.7 312.2,82.0 313.6,81.6 315.0,80.3 316.4,80.4 317.8,79.4 319.2,79.2 320.6,77.8 321.9,77.2 323.3,76.8 324.7,76.7 326.1,75.5 327.5,74.8 329.1,74.4 330.6,74.2 332.2,73.8 333.8,72.5 335.3,72.0 336.9,71.2 338.4,71.4 340.0,71.2 341.6,70.0 343.1,68.5 344.7,67.8 346.2,67.2 347.8,67.3 349.4,66.2 350.9,66.6 352.5,66.4 354.1,66.4 355.6,65.5 357.2,64.6 358.8,63.7 360.3,63.2 361.9,62.6 363.4,62.2 365.0,61.3 366.6,61.6 368.1,61.2 369.7,61.5 371.2,61.0 372.8,60.3 374.4,59.0 375.9,58.6 377.5,58.5 379.1,58.4 380.6,57.3 382.2,56.9 383.8,55.8 385.3,55.2 386.9,54.4 388.4,54.2 390.0,52.8 391.6,53.6 393.1,54.0 394.7,54.5 396.2,54.3 397.8,54.5 399.4,55.6 400.9,56.2 402.5,56.9 404.0,56.5 405.6,56.0 407.1,55.1 408.7,55.2 410.2,55.1 411.7,55.4 413.3,55.3 414.8,55.5 416.3,55.4 417.9,54.8 419.4,54.4 421.0,53.7 422.5,53.3 424.0,53.3 425.4,53.9 426.9,54.2 428.3,54.8 429.8,55.6 431.2,56.6 432.7,57.5 434.2,58.4 435.6,59.1 437.1,60.1 438.5,59.9 440.0,59.6 441.5,59.8 443.1,60.4 444.6,61.4 446.2,61.6 447.7,62.2 449.2,62.2 450.8,62.6 452.3,62.1 453.8,61.8 455.4,61.7 456.9,62.8 458.5,63.3 460.0,64.0 461.5,63.6 463.1,64.3 464.6,64.3 466.2,64.9 467.7,65.0 469.2,65.3 470.8,65.6 472.3,66.5 473.8,66.5 475.4,67.2 476.9,67.8 478.5,69.2 480.0,68.5 481.5,68.2 483.0,67.0 484.5,67.8 486.0,68.2 487.5,68.7 489.0,68.3 490.5,68.4 492.0,69.2 493.5,69.8 495.0,69.9 496.5,69.2 498.0,69.6 499.5,70.1 501.0,71.4 502.5,72.5 504.0,72.4 505.5,72.0 507.0,72.0 508.5,72.6 510.0,73.8 511.5,74.3 513.0,75.0 514.5,75.8 516.0,76.4 517.5,76.0 519.0,75.9 520.5,76.5 522.0,77.3 523.5,78.0 525.0,77.7 526.5,77.9 528.0,78.4 529.5,79.0 531.0,79.3 532.5,79.3 534.0,78.8 535.5,78.9 537.0,79.1 538.5,79.8 540.0,80.0 541.5,80.3 543.0,80.9 544.5,82.2 546.0,82.9 547.5,83.2 549.0,83.1 550.5,83.2 552.0,83.7 553.5,84.9 555.0,85.9 556.5,86.8 558.0,86.9 559.5,86.6 561.0,86.8 562.5,87.0 564.0,87.5 565.5,87.0 567.0,87.4 568.5,88.2 570.0,88.7 571.5,88.8 573.0,88.6 574.5,89.9 576.0,91.2 577.5,91.5 579.0,91.2 580.5,91.1 582.0,91.2 583.5,91.8 585.0,92.1 586.5,92.3 588.0,92.5 589.5,92.9 591.0,93.4 592.5,93.6 594.0,94.4 595.5,95.7 597.0,96.3 598.5,96.3 600.0,96.2 601.5,96.6 603.0,96.8 604.5,97.5 606.0,97.6 607.5,98.0 609.0,97.7 610.5,98.1 612.0,98.7 613.5,99.4 615.0,100.6 616.4,101.5 617.8,102.0 619.2,101.7 620.6,102.1 621.9,102.4 623.3,103.4 624.7,104.3 626.1,105.3 627.5,105.9 629.0,105.3 630.5,105.1 632.0,105.1 633.5,105.0 635.0,104.7 636.5,104.9 638.0,104.5 639.5,104.5 641.0,103.7 642.5,104.7 644.0,105.5 645.5,106.5 647.0,106.6 648.5,107.0 650.0,107.4 651.5,107.2 653.0,107.6 654.5,108.2 656.0,108.7 657.5,109.4 659.0,110.0 660.5,110.5 662.0,110.6 663.5,110.9 665.0,111.8 666.5,112.6 668.0,112.8 669.5,113.5 671.0,114.0 672.5,115.2 674.0,115.7 675.5,115.9 677.0,116.3 678.5,116.0 680.0,116.8 681.5,116.8 683.0,117.4 684.5,117.3 686.0,117.2 687.5,117.3 689.0,117.9 690.5,118.8 692.0,120.3 693.5,120.7 695.0,121.1 696.5,121.1 698.0,122.5 699.5,123.5 701.0,124.2 702.5,123.9 704.0,123.7 705.5,124.0 707.0,124.7 708.5,125.6 710.0,126.2 711.5,126.4 713.0,125.9 714.5,125.5 716.0,124.8 717.5,124.9 719.1,125.5 720.7,126.5 722.3,127.2 723.9,126.9 725.5,127.5 727.1,127.8 728.8,128.5 730.4,128.8 732.0,128.3 733.6,128.5 735.2,128.5 736.8,130.3 738.4,130.8 740.0,131.4 741.1,132.3 742.1,133.2 743.2,135.0 744.3,135.7 745.4,137.2 746.4,137.6 747.5,139.3 749.0,138.3 750.5,138.4 752.0,137.5 753.5,137.9 755.0,136.9 756.5,136.8 758.0,136.5 759.5,136.7 761.0,136.3 762.5,136.1 763.8,137.2 765.0,137.9 766.2,138.2 767.5,138.4 768.8,139.7 770.0,140.9 771.2,142.6 772.5,143.4 773.8,144.1 775.0,145.0 776.2,146.6 777.5,147.8 778.7,148.4 779.8,148.7 781.0,150.3 782.0,149.2 783.0,148.1 784.0,146.9" fill="none" stroke="#dad42c" stroke-width="3.2" stroke-linejoin="round" stroke-linecap="round"/><polyline points="117.5,54.0 119.1,53.6 120.6,53.4 122.2,53.1 123.8,53.1 125.4,53.6 127.0,53.2 128.6,53.3 130.2,52.7 131.8,52.9 133.4,53.0 135.0,53.5 136.0,55.0 137.1,56.4 138.1,58.2 139.2,59.5 140.2,60.0 141.2,60.4 142.3,61.1 143.3,62.6 144.4,64.1 145.4,65.4 146.5,66.1 147.5,66.9 148.8,67.9 150.0,69.1 151.2,69.7 152.5,70.6 153.8,72.0 155.0,73.1 156.2,74.4 157.5,76.0 158.8,76.9 160.0,77.6 161.2,77.9 162.5,79.5 163.8,80.5 165.0,82.0 166.2,82.2 167.5,83.0 168.8,83.5 170.0,84.5 171.2,85.6 172.5,86.8 173.8,88.2 175.0,89.4 176.1,90.4 177.2,91.7 178.3,93.0 179.4,94.2 180.6,95.3 181.7,96.0 182.8,97.3 183.9,98.3 185.0,99.8 186.2,100.6 187.5,101.7 188.8,102.6 190.0,103.7 191.2,104.4 192.5,106.1 194.0,106.2 195.5,106.9 197.0,106.6 198.5,106.7 200.0,106.5 201.5,106.0 203.0,105.6 204.5,104.4 206.0,103.9 207.5,103.6 208.8,103.2 210.0,102.5 211.2,101.6 212.5,100.5 213.8,99.8 215.0,97.8 216.5,97.1 218.0,95.1 219.5,95.4 221.0,95.0 222.5,95.9 223.8,94.5 225.0,92.9 226.2,91.8 227.5,90.6 228.8,89.9 230.0,88.4 231.2,88.2 232.5,87.5 233.8,86.5 235.0,84.6 236.2,84.2 237.5,83.1 238.8,82.6 240.0,81.2 241.2,80.1 242.5,79.1 243.9,78.0 245.4,77.4 246.8,76.9 248.2,77.1 249.6,76.5 251.1,75.9 252.5,75.1 254.2,75.3 255.8,75.2 257.5,74.9 259.2,74.5 260.8,74.7 262.5,74.8 264.0,75.6 265.5,77.0 267.0,77.8 268.5,78.6 270.0,78.1 271.4,78.0 272.9,78.7 274.3,79.1 275.7,80.0 277.1,80.5 278.6,81.4 280.0,82.0 281.5,82.4 283.0,83.5 284.5,84.4 286.0,84.8 287.5,85.1 288.8,85.8 290.0,87.0 291.2,87.8 292.5,88.6 293.8,90.1 295.0,90.8 296.4,91.7 297.9,92.3 299.3,93.0 300.7,94.1 302.1,94.6 303.6,96.1 305.0,96.3 306.4,97.4 307.9,97.4 309.3,98.4 310.7,99.1 312.1,100.7 313.6,102.4 315.0,103.9 316.2,104.3 317.5,104.3 318.8,105.0 320.0,106.6 321.2,107.3 322.5,108.0 323.8,108.4 325.0,109.5 326.2,109.9 327.5,111.1 328.8,113.1 330.0,114.5 331.2,115.5 332.5,116.6 333.8,117.2 335.0,118.1 336.4,118.1 337.9,119.3 339.3,120.1 340.7,121.6 342.1,122.2 343.6,123.4 345.0,123.9 346.4,124.6 347.9,125.0 349.3,125.8 350.7,126.2 352.1,127.4 353.6,128.4 355.0,130.1 356.4,130.6 357.9,131.2 359.3,131.6 360.7,132.4 362.1,132.2 363.6,133.2 365.0,133.2 366.4,134.6 367.8,134.9 369.2,135.7 370.6,136.0 371.9,137.3 373.3,137.7 374.7,138.3 376.1,138.6 377.5,139.8 378.9,141.0 380.3,141.4 381.7,142.0 383.1,143.1 384.4,143.9 385.8,145.2 387.2,145.9 388.6,147.2 390.0,147.4 391.4,148.3 392.9,148.8 394.3,149.8 395.7,149.6 397.1,149.8 398.6,150.2 400.0,150.9 401.5,151.4 403.1,152.0 404.6,152.8 406.2,153.7 407.7,154.2 409.2,154.6 410.8,155.2 412.3,156.1 413.8,155.9 415.4,155.5 416.9,155.9 418.5,156.7 420.0,157.7 421.5,157.9 423.1,158.2 424.6,158.5 426.2,159.3 427.7,159.3 429.2,160.2 430.8,160.3 432.3,161.8 433.8,162.0 435.4,162.2 436.9,161.7 438.5,162.0 440.0,161.5 441.5,162.0 443.1,162.4 444.6,163.4 446.2,163.8 447.7,164.6 449.2,164.5 450.8,165.1 452.3,165.0 453.8,165.9 455.4,166.2 456.9,167.4 458.5,167.4 460.0,168.2 461.5,168.4 463.0,169.1 464.5,168.8 466.0,168.3 467.5,168.5 469.0,169.7 470.5,169.8 472.0,170.6 473.5,170.1 475.0,171.8 476.5,171.9 478.1,171.7 479.6,171.0 481.2,171.1 482.7,171.7 484.2,171.6 485.8,171.6 487.3,171.5 488.8,172.0 490.4,172.3 491.9,172.6 493.5,172.4 495.0,172.6 496.5,172.5 498.1,172.5 499.6,172.2 501.2,172.4 502.7,172.6 504.2,172.2 505.8,172.9 507.3,173.3 508.8,174.5 510.4,174.0 511.9,174.1 513.5,173.8 515.0,174.1 516.5,174.5 518.1,174.4 519.6,174.6 521.2,173.6 522.7,174.0 524.2,173.9 525.8,174.2 527.3,173.9 528.8,173.4 530.4,173.5 531.9,173.8 533.5,173.7 535.0,174.5 536.5,174.9 538.0,175.7 539.5,175.0 541.0,174.3 542.5,174.2 544.0,174.6 545.5,175.9 547.0,176.1 548.5,176.7 550.0,176.5 551.5,176.5 553.0,176.0 554.5,175.7 556.0,175.7 557.5,176.0 559.0,176.4 560.5,176.5 562.0,175.7 563.5,175.0 565.0,175.0 566.5,175.3 568.0,175.3 569.5,175.5 571.0,176.2 572.5,176.8 574.0,176.9 575.5,176.5 577.0,175.9 578.5,176.9 580.0,177.4 581.5,178.1 583.0,178.5 584.5,179.3 586.0,180.4 587.5,179.8 589.0,179.5 590.5,178.8 592.0,179.3 593.5,179.9 595.0,180.5 596.5,181.4 598.0,182.1 599.5,182.0 601.0,181.7 602.5,181.9 604.0,182.3 605.5,183.3 607.0,183.8 608.5,185.0 610.0,184.4 611.5,184.2 613.0,184.4 614.5,185.1 616.0,185.7 617.5,186.0 619.0,186.6 620.5,187.3 622.0,187.8 623.5,188.4 625.0,189.8 626.5,190.8 628.0,190.9 629.5,191.2 631.0,191.1 632.5,191.3 634.0,190.6 635.5,190.6 637.0,192.0 638.5,192.6 640.0,193.3 641.5,193.2 643.0,194.0 644.5,194.6 646.0,195.1 647.5,195.6 649.0,196.8 650.5,197.1 652.0,197.8 653.5,198.2 655.0,199.2 656.5,199.3 658.0,199.4 659.5,200.0 661.0,200.9 662.5,201.5 664.0,201.4 665.5,202.0 667.0,203.4 668.5,204.3 670.0,205.4 671.5,205.3 673.0,205.8 674.5,205.6 676.0,206.4 677.5,206.3 679.0,206.7 680.5,207.2 682.0,207.7 683.5,208.2 685.0,208.5 686.5,210.3 688.0,211.3 689.5,211.7 691.0,212.5 692.5,212.2 694.0,212.3 695.5,212.7 697.0,213.9 698.5,214.7 700.0,215.2 701.5,215.6 703.1,216.5 704.6,216.3 706.1,215.9 707.6,215.4 709.2,215.8 710.7,216.5 712.2,217.2 713.8,217.4 715.2,218.3 716.6,218.7 718.0,219.2 719.4,220.2 720.8,220.9 722.2,221.6 723.6,221.8 725.0,222.0 726.5,222.2 728.0,220.9 729.5,220.7 731.0,219.1 732.5,218.7 733.9,219.5 735.2,221.1 736.6,222.3 738.0,223.8 739.3,224.6 740.7,225.1 742.0,225.5 743.4,225.8 744.8,227.0 746.1,227.8 747.5,229.0 749.1,229.3 750.7,228.6 752.3,228.4 753.9,228.1 755.5,229.4 757.1,229.4 758.8,229.5 760.4,229.2 762.0,229.8 763.6,229.7 765.2,230.0 766.8,230.0 768.4,230.6 770.0,230.9 771.5,231.3 773.0,231.9 774.5,232.0 776.0,233.3 777.5,233.8 779.1,233.2 780.8,232.1 782.4,232.0 784.0,231.9" fill="none" stroke="#9016dc" stroke-width="3.2" stroke-linejoin="round" stroke-linecap="round"/><polyline points="98.5,165.0 99.5,162.8 100.5,160.8 101.5,159.5 101.8,157.1 102.0,156.5 102.3,155.1 102.6,154.6 102.8,152.6 103.1,151.1 103.4,149.1 103.7,147.5 103.9,145.9 104.2,144.1 104.5,142.6 104.7,141.3 105.0,140.1 105.2,138.5 105.5,137.4 105.8,135.9 106.0,134.2 106.2,132.1 106.5,130.3 106.8,128.8 107.0,127.1 107.2,126.3 107.5,124.9 107.8,123.5 108.0,121.5 108.2,120.5 108.5,118.9 108.8,116.9 109.0,115.5 109.2,113.6 109.3,112.2 109.5,110.1 109.7,109.7 109.9,108.0 110.0,105.5 110.2,103.5 110.4,102.1 110.6,101.2 110.7,99.6 110.9,98.4 111.1,97.0 111.3,95.2 111.4,94.0 111.6,92.9 111.8,91.5 112.0,89.5 112.1,87.7 112.3,86.3 112.5,84.6 112.7,82.7 112.8,81.4 113.0,80.1 113.3,78.6 113.5,76.8 113.8,75.3 114.1,73.9 114.3,71.7 114.6,70.7 114.9,69.2 115.1,68.0 115.4,66.2 115.6,64.7 115.9,63.4 116.2,61.9 116.4,60.9 116.7,59.5 117.0,58.2 117.2,56.6 117.5,54.6 119.2,54.3 120.8,54.3 122.5,54.4 124.2,54.9 125.8,55.4 127.5,56.6 128.6,58.0 129.8,58.1 130.9,59.6 132.0,60.7 133.2,62.6 134.3,63.1 135.5,63.5 136.6,63.9 137.7,64.5 138.9,66.7 140.0,68.0 141.0,69.3 142.1,69.8 143.1,71.3 144.2,72.6 145.2,73.8 146.2,74.4 147.3,74.3 148.3,75.4 149.4,76.9 150.4,79.3 151.5,80.3 152.5,81.2 153.6,82.0 154.8,82.6 155.9,83.5 157.0,84.1 158.2,85.7 159.3,87.7 160.5,89.3 161.6,90.6 162.7,91.1 163.9,92.0 165.0,92.5 166.1,93.5 167.3,93.8 168.4,94.7 169.5,95.6 170.7,97.7 171.8,99.4 173.0,101.2 174.1,102.6 175.2,103.4 176.4,104.6 177.5,105.8 178.6,107.0 179.8,108.2 180.9,108.7 182.0,109.3 183.2,110.2 184.3,111.1 185.5,112.8 186.6,113.7 187.7,115.2 188.9,115.7 190.0,117.6 191.4,118.4 192.9,119.5 194.3,119.1 195.7,119.3 197.1,120.1 198.6,121.0 200.0,121.7 201.7,120.5 203.3,119.6 205.0,119.5 206.7,119.7 208.3,119.2 210.0,118.1 211.4,116.7 212.9,116.0 214.3,115.7 215.7,115.2 217.1,114.9 218.6,113.7 220.0,112.4 221.4,111.2 222.9,111.1 224.3,110.6 225.7,109.8 227.1,108.8 228.6,108.3 230.0,107.9 231.1,106.9 232.2,105.2 233.3,104.2 234.4,102.3 235.6,101.3 236.7,99.8 237.8,99.4 238.9,98.7 240.0,97.2 241.6,96.1 243.1,96.1 244.7,96.5 246.2,96.1 247.8,95.9 249.4,95.0 250.9,94.5 252.5,93.2 254.1,93.9 255.6,95.1 257.2,95.8 258.8,95.7 260.3,95.3 261.9,94.9 263.4,95.3 265.0,95.6 266.5,96.7 268.0,97.0 269.5,97.7 271.0,97.9 272.5,98.6 274.0,99.0 275.5,99.6 277.0,100.2 278.5,101.4 280.0,102.3 281.4,103.0 282.7,103.6 284.1,104.4 285.5,105.9 286.8,106.4 288.2,106.9 289.5,106.9 290.9,107.7 292.3,108.6 293.6,109.6 295.0,110.1 296.2,111.0 297.5,111.8 298.8,112.8 300.0,113.2 301.2,114.0 302.5,114.5 303.8,115.3 305.0,116.2 306.2,117.9 307.5,119.3 308.8,120.1 310.0,120.3 311.4,120.9 312.7,122.0 314.1,123.1 315.5,123.5 316.8,123.8 318.2,124.0 319.5,124.6 320.9,125.0 322.3,125.7 323.6,125.8 325.0,126.4 326.5,127.2 328.0,128.2 329.5,129.4 331.0,129.5 332.5,130.3 334.0,130.9 335.5,131.6 337.0,132.1 338.5,133.3 340.0,134.1 341.5,134.6 343.0,134.1 344.5,134.9 346.0,135.6 347.5,136.6 349.0,137.3 350.5,137.7 352.0,137.8 353.5,137.6 355.0,137.7 356.5,138.0 358.0,139.0 359.5,139.9 361.0,140.8 362.5,141.2 364.0,141.5 365.5,142.3 367.0,142.2 368.5,142.4 370.0,142.0 371.5,142.7 373.0,143.1 374.5,143.2 376.0,143.2 377.5,143.8 379.0,144.1 380.5,144.1 382.0,144.3 383.5,144.9 385.0,145.4 386.5,145.0 388.0,145.0 389.5,145.0 391.0,144.8 392.5,145.3 394.0,145.4 395.5,146.0 397.0,146.5 398.5,146.7 400.0,146.8 401.5,146.2 403.1,146.5 404.6,147.1 406.2,147.2 407.7,146.9 409.2,146.6 410.8,146.5 412.3,146.5 413.8,146.9 415.4,147.1 416.9,147.6 418.5,147.5 420.0,147.5 421.5,147.7 423.1,148.1 424.6,148.9 426.2,149.0 427.7,149.4 429.2,149.3 430.8,149.4 432.3,149.8 433.8,150.1 435.4,150.1 436.9,150.3 438.5,150.8 440.0,151.5 441.5,151.6 443.1,151.1 444.6,150.8 446.2,150.3 447.7,149.9 449.2,149.6 450.8,148.6 452.3,148.6 453.8,148.5 455.4,149.2 456.9,149.0 458.5,148.9 460.0,148.3 461.5,148.4 463.1,148.8 464.6,148.9 466.2,147.9 467.7,146.8 469.2,146.1 470.8,146.4 472.3,146.6 473.8,146.3 475.4,145.1 476.9,144.7 478.5,144.2 480.0,144.3 481.5,144.0 483.1,144.2 484.6,143.8 486.2,143.0 487.7,142.3 489.2,142.4 490.8,142.1 492.3,141.2 493.8,140.7 495.4,140.2 496.9,141.2 498.5,140.2 500.0,139.6 501.5,138.1 503.1,138.0 504.6,137.4 506.2,136.7 507.7,135.6 509.2,135.4 510.8,135.3 512.3,135.3 513.8,135.6 515.4,135.6 516.9,135.7 518.5,134.6 520.0,134.0 521.5,133.3 523.1,133.1 524.6,133.0 526.2,132.9 527.7,132.8 529.2,132.3 530.8,131.4 532.3,130.8 533.8,130.6 535.4,130.6 536.9,130.3 538.5,130.0 540.0,129.6 541.5,129.4 543.1,129.2 544.6,129.1 546.2,129.5 547.7,129.1 549.2,129.2 550.8,128.9 552.3,127.8 553.8,127.2 555.4,126.2 556.9,126.5 558.5,126.2 560.0,126.7 561.6,126.5 563.1,126.8 564.7,126.0 566.2,125.7 567.8,124.9 569.4,125.0 570.9,124.8 572.5,124.3 574.1,123.6 575.6,122.9 577.2,123.1 578.8,123.2 580.3,123.4 581.9,122.7 583.4,122.0 585.0,121.4 586.6,121.2 588.1,120.8 589.7,120.3 591.2,120.2 592.8,120.5 594.4,120.5 595.9,119.8 597.5,119.1 599.1,119.0 600.6,118.3 602.2,117.9 603.8,117.2 605.3,117.4 606.9,116.9 608.4,116.4 610.0,115.4 611.6,114.9 613.1,114.2 614.7,114.0 616.2,114.1 617.8,113.9 619.4,113.4 620.9,112.8 622.5,112.9 624.1,113.1 625.6,112.6 627.2,112.3 628.8,111.6 630.3,112.0 631.9,111.3 633.4,111.1 635.0,110.4 636.5,110.3 638.0,110.0 639.5,109.9 641.0,109.6 642.5,109.5 644.1,110.1 645.7,110.8 647.3,111.1 648.9,111.5 650.5,111.7 652.1,111.9 653.8,112.5 655.4,112.0 657.0,112.2 658.6,111.7 660.2,111.7 661.8,111.7 663.4,111.8 665.0,111.3 666.5,111.4 668.0,111.4 669.5,111.5 671.0,111.4 672.5,111.5 674.0,111.8 675.5,112.0 677.0,111.8 678.5,112.1 680.0,112.5 681.4,113.3 682.8,113.1 684.1,113.5 685.5,113.9 686.9,114.6 688.2,114.0 689.6,114.9 691.0,116.2 692.6,117.4 694.2,117.2 695.8,117.4 697.3,117.2 698.9,117.3 700.5,117.0 702.1,117.2 703.7,117.5 705.2,117.7 706.8,117.1 708.4,117.6 710.0,117.4 711.5,118.7 713.0,118.3 714.5,118.9 716.0,119.1 717.5,119.2 719.0,119.7 720.5,120.3 722.0,120.8 723.5,120.4 725.0,120.4 726.6,120.7 728.1,121.4 729.7,121.8 731.3,122.6 732.9,122.9 734.4,123.0 736.0,122.7 737.4,122.3 738.9,122.8 740.3,123.2 741.8,124.7 743.2,125.8 744.6,126.8 746.1,127.8 747.5,128.2 749.0,129.2 750.5,129.8 752.0,131.0 753.5,131.9 755.0,132.8 756.6,133.0 758.1,133.0 759.7,133.6 761.3,133.6 762.9,133.8 764.4,134.5 766.0,134.8 767.4,135.7 768.9,136.1 770.3,136.4 771.8,137.3 773.2,138.0 774.6,139.2 776.1,140.1 777.5,141.0 779.1,141.7 780.8,141.6 782.4,142.0 784.0,142.2" fill="none" stroke="#1a84e2" stroke-width="3.2" stroke-linejoin="round" stroke-linecap="round"/><polyline points="97.8,232.0 97.9,229.8 98.0,228.2 98.1,227.6 98.2,226.3 98.3,224.2 98.4,222.3 98.5,220.4 98.7,219.7 98.8,218.0 98.9,217.4 99.0,215.4 99.2,213.7 99.4,211.2 99.6,209.6 99.8,208.6 100.0,207.9 100.2,206.6 100.4,204.7 100.6,203.0 100.8,201.0 101.0,199.9 101.2,197.9 101.4,197.3 101.6,195.8 101.8,194.6 101.9,192.3 102.1,190.6 102.3,189.0 102.5,187.6 102.7,185.7 102.9,184.4 103.1,182.9 103.2,181.6 103.4,180.1 103.6,178.2 103.8,177.1 104.0,175.4 104.1,174.1 104.3,171.8 104.4,169.7 104.5,168.6 104.7,166.6 104.8,165.8 104.9,164.1 105.1,163.1 105.2,161.2 105.3,159.5 105.5,158.2 105.6,157.1 105.7,155.4 105.9,154.3 106.0,152.9 106.1,151.5 106.3,149.9 106.4,147.9 106.5,146.5 106.7,145.0 106.8,144.2 106.9,142.7 107.1,141.0 107.2,138.9 107.3,137.4 107.5,135.6 107.6,134.7 107.7,133.1 107.9,131.7 108.0,129.4 108.2,128.3 108.3,127.8 108.5,127.4 108.6,125.9 108.8,123.6 108.9,121.2 109.1,119.0 109.2,117.6 109.4,116.0 109.5,115.4 109.7,113.6 109.8,111.8 110.0,109.1 110.2,107.1 110.3,106.0 110.5,105.1 110.6,103.8 110.8,101.6 110.9,100.0 111.1,98.7 111.2,97.7 111.4,96.1 111.5,94.4 111.7,92.3 111.8,90.8 112.0,89.5 112.2,88.6 112.5,87.4 112.8,86.1 113.0,84.4 113.2,82.8 113.5,80.4 113.8,79.2 114.0,77.5 114.2,77.0 114.5,75.6 114.8,73.8 115.0,72.0 115.2,70.5 115.5,69.1 115.8,67.7 116.0,65.7 116.2,64.5 116.5,63.1 116.8,61.5 117.0,59.4 118.4,57.7 119.8,57.3 121.1,56.6 122.5,56.2 124.1,55.4 125.6,55.0 127.2,55.1 128.8,55.1 130.3,54.4 131.9,53.9 133.4,53.4 135.0,53.7 136.4,54.6 137.8,55.9 139.2,56.9 140.6,58.1 141.9,58.7 143.3,59.0 144.7,60.0 146.1,60.6 147.5,61.8 148.9,62.3 150.3,63.8 151.7,64.5 153.1,64.8 154.4,65.1 155.8,65.6 157.2,66.3 158.6,67.1 160.0,68.7 161.2,70.0 162.5,71.2 163.8,72.1 165.0,72.7 166.2,73.2 167.5,73.7 168.8,74.6 170.0,75.9 171.2,77.1 172.5,77.5 173.6,78.4 174.8,79.0 175.9,80.4 177.0,81.8 178.2,83.6 179.3,85.5 180.5,86.4 181.6,87.7 182.7,88.1 183.9,89.3 185.0,89.7 186.2,90.8 187.5,91.0 188.8,92.6 190.0,94.3 191.2,96.0 192.5,96.3 193.8,96.7 195.0,97.1 196.4,97.7 197.9,98.6 199.3,100.0 200.7,100.8 202.1,101.1 203.6,101.1 205.0,101.6 206.4,101.8 207.9,102.5 209.3,102.8 210.7,103.7 212.1,104.0 213.6,104.8 215.0,105.0 216.4,106.2 217.9,107.2 219.3,107.7 220.7,107.6 222.1,108.2 223.6,109.2 225.0,110.2 226.5,110.3 228.0,111.0 229.5,111.3 231.0,111.9 232.5,111.5 234.1,111.0 235.6,110.2 237.2,109.9 238.8,109.3 240.3,108.4 241.9,107.9 243.4,107.4 245.0,107.3 246.5,107.6 248.0,107.7 249.5,108.0 251.0,107.6 252.5,107.4 254.0,107.2 255.5,107.2 257.0,107.2 258.5,106.8 260.0,106.5 261.7,106.5 263.3,107.3 265.0,107.6 266.7,107.6 268.3,107.5 270.0,107.7 271.7,107.7 273.3,107.7 275.0,107.4 276.7,106.8 278.3,106.3 280.0,106.2 281.4,106.9 282.9,107.6 284.3,107.0 285.7,108.4 287.1,108.3 288.6,109.5 290.0,109.4 291.5,109.7 293.0,110.3 294.5,110.5 296.0,110.9 297.5,110.5 299.0,111.4 300.5,112.5 302.0,113.5 303.5,113.7 305.0,114.2 306.5,114.9 308.0,115.7 309.5,116.0 311.0,116.6 312.5,117.0 314.0,117.5 315.5,117.9 317.0,118.2 318.5,118.2 320.0,118.0 321.5,118.0 323.0,118.5 324.5,119.8 326.0,120.4 327.5,120.3 329.0,120.5 330.5,121.4 332.0,122.5 333.5,122.7 335.0,122.8 336.5,123.1 338.0,123.8 339.5,123.8 341.0,124.0 342.5,123.5 344.0,124.0 345.5,124.3 347.0,125.0 348.5,125.6 350.0,126.5 351.5,126.6 353.0,127.0 354.5,126.8 356.0,127.4 357.5,127.6 359.0,128.3 360.5,128.4 362.0,129.4 363.5,129.6 365.0,130.2 366.5,129.4 368.0,129.9 369.5,130.5 371.0,131.3 372.5,131.2 374.0,131.6 375.5,132.0 377.0,132.7 378.5,132.4 380.0,132.3 381.5,131.3 383.0,131.0 384.5,130.4 386.0,130.2 387.5,130.0 389.0,129.8 390.5,129.6 392.0,129.3 393.5,129.0 395.0,128.5 396.5,128.2 398.0,128.4 399.5,128.7 401.0,129.0 402.5,129.4 404.0,128.8 405.5,128.6 407.0,127.3 408.5,127.3 410.0,126.7 411.7,126.7 413.3,126.9 415.0,127.2 416.7,126.8 418.3,126.3 420.0,125.6 421.5,124.8 423.1,124.7 424.6,124.1 426.2,124.0 427.7,123.2 429.2,122.8 430.8,122.5 432.3,122.5 433.8,122.2 435.4,121.9 436.9,120.8 438.5,120.3 440.0,120.3 441.5,120.7 443.1,121.0 444.6,121.2 446.2,120.6 447.7,120.7 449.2,119.8 450.8,119.9 452.3,119.7 453.8,119.3 455.4,119.5 456.9,119.1 458.5,119.4 460.0,118.7 461.5,119.0 463.0,118.7 464.5,118.5 466.0,118.6 467.5,119.1 469.0,119.4 470.5,119.6 472.0,120.2 473.5,120.2 475.0,119.4 476.6,119.2 478.1,119.3 479.7,120.3 481.2,120.4 482.8,121.2 484.4,122.2 485.9,122.8 487.5,122.5 488.9,122.5 490.3,123.0 491.7,123.9 493.1,125.2 494.4,126.4 495.8,128.0 497.2,129.0 498.6,129.7 500.0,130.1 501.2,130.5 502.5,131.3 503.8,132.1 505.0,132.6 506.2,134.2 507.5,135.7 508.8,136.9 510.0,136.9 511.2,137.2 512.5,138.2 513.8,139.1 515.0,139.4 516.1,140.4 517.1,141.7 518.2,143.1 519.3,143.6 520.4,144.5 521.4,145.6 522.5,147.5 523.6,148.8 524.6,149.7 525.7,150.6 526.8,151.0 527.9,152.4 528.9,153.7 530.0,155.1 530.9,156.8 531.8,157.5 532.7,159.4 533.6,160.5 534.5,162.8 535.4,163.6 536.2,164.8 537.1,165.1 538.0,166.1 538.9,167.9 539.8,168.8 540.7,170.4 541.6,171.7 542.5,173.6 543.4,174.2 544.3,175.3 545.2,176.5 546.1,178.5 547.0,179.1 547.9,180.1 548.8,181.4 549.6,183.0 550.5,184.2 551.4,185.0 552.3,186.2 553.2,187.4 554.1,189.5 555.0,190.8 555.9,191.9 556.9,192.0 557.8,193.4 558.8,194.9 559.7,196.3 560.6,196.9 561.6,198.7 562.5,200.0 563.4,201.6 564.4,202.3 565.3,203.4 566.2,204.7 567.2,205.3 568.1,206.7 569.1,207.2 570.0,209.3 570.9,210.7 571.8,212.6 572.7,213.6 573.6,214.5 574.5,215.8 575.4,217.0 576.2,219.0 577.1,220.0 578.0,221.1 578.9,222.0 579.8,223.6 580.7,225.0 581.6,226.4 582.5,227.8 583.4,229.1 584.3,230.4 585.2,231.3 586.1,232.1 587.0,233.4 587.9,234.6 588.8,236.2 589.6,236.9 590.5,238.8 591.4,240.4 592.3,242.0 593.2,242.9 594.1,244.1 595.0,246.1 595.9,247.2 596.8,248.5 597.7,248.8 598.6,249.9 599.5,250.8 600.4,252.2 601.2,253.2 602.1,254.7 603.0,255.8 603.9,257.1 604.8,258.1 605.7,260.1 606.6,262.0 607.5,263.2 608.4,263.7 609.3,264.1 610.2,265.4 611.1,267.3 612.0,269.2 612.9,270.4 613.8,271.2 614.6,272.3 615.5,274.0 616.4,275.5 617.3,276.8 618.2,277.5 619.1,278.7 620.0,280.2 620.9,281.5 621.8,283.2 622.7,284.0 623.6,285.4 624.5,286.5 625.4,288.2 626.2,289.3 627.1,290.3 628.0,291.3 628.9,292.8 629.8,294.1 630.7,295.7 631.6,296.6 632.5,298.2 633.3,299.6 634.1,300.8 634.9,301.9 635.7,302.7 636.5,303.9 637.2,305.2 638.0,307.0 638.8,308.7 639.6,310.1 640.4,311.2 641.2,312.1 642.0,313.2 643.0,314.8 644.0,317.2 645.0,318.2 646.0,318.7 647.0,319.7 648.0,321.3 649.0,323.2 650.0,324.2 651.2,325.6 652.5,326.8 653.8,328.0 655.0,328.8 656.2,329.7 657.5,331.1 658.8,332.3 660.0,333.5 661.1,334.6 662.2,335.6 663.3,336.5 664.4,337.6 665.6,338.5 666.7,339.4 667.8,339.9 668.9,341.2 670.0,342.5 671.1,343.7 672.2,344.8 673.3,346.2 674.4,347.3 675.6,348.1 676.7,349.1 677.8,350.5 678.9,351.4 680.0,352.2 681.2,352.6 682.5,353.7 683.8,355.1 685.0,357.1 686.2,358.3 687.5,358.7 688.8,358.8 690.0,360.0 691.2,361.7 692.5,363.3 693.8,364.3 695.0,364.9 696.2,365.4 697.5,366.2 698.8,367.6 700.0,368.7 701.2,369.3 702.4,370.3 703.6,370.9 704.8,372.6 706.0,372.8 707.2,374.3 708.4,374.6 709.6,376.3 710.8,376.8 712.0,377.9 713.3,378.5 714.7,379.5 716.0,380.0 717.3,380.5 718.7,381.3 720.0,382.7 721.3,382.6 722.7,384.2 724.0,385.6 725.3,387.6 726.7,387.8 728.0,387.7 729.3,388.2 730.7,388.9 732.0,390.3 733.3,390.6 734.7,391.4 736.0,391.8 737.3,393.0 738.7,394.7 740.0,395.6 741.3,397.0 742.7,397.3 744.0,398.3 745.3,399.0 746.7,400.4 748.0,401.1 749.3,402.0 750.7,402.7 752.0,403.5 753.3,405.2 754.7,405.8 756.0,407.0 757.3,407.8 758.7,408.3 760.0,409.8 761.4,409.9 762.9,411.0 764.3,411.6 765.7,413.1 767.1,414.2 768.6,414.8 770.0,415.1 771.6,415.9 773.2,416.8 774.8,417.6 776.4,418.2 778.0,418.6 779.5,418.5 781.0,419.4 782.5,420.1 784.0,421.6" fill="none" stroke="#d4f024" stroke-width="3.2" stroke-linejoin="round" stroke-linecap="round"/><polyline points="98.5,187.0 98.6,185.5 98.8,184.0 98.9,182.0 99.0,180.5 99.1,179.5 99.2,178.4 99.4,177.4 99.5,175.6 100.6,177.2 101.7,178.6 102.8,179.6 103.0,178.3 103.2,176.8 103.4,176.0 103.6,173.7 103.8,171.4 104.0,169.4 104.2,168.3 104.4,167.4 104.6,166.2 104.8,165.0 105.0,163.1 105.2,161.7 105.5,160.2 105.7,158.6 105.9,157.6 106.1,156.1 106.3,155.2 106.5,152.9 106.7,150.9 106.8,148.9 107.0,147.6 107.1,146.5 107.3,145.2 107.4,143.6 107.6,141.5 107.7,139.7 107.9,138.8 108.0,137.3 108.2,136.1 108.3,134.3 108.5,132.5 108.6,130.9 108.8,129.7 108.9,128.0 109.1,126.4 109.2,124.4 109.4,123.3 109.5,122.1 109.7,120.6 109.8,118.8 110.0,117.4 110.1,116.1 110.3,115.4 110.4,114.1 110.6,112.5 110.7,110.7 110.9,108.3 111.0,106.9 111.2,105.1 111.3,103.9 111.5,101.7 111.7,100.1 111.8,98.5 112.0,97.9 112.1,96.0 112.3,94.1 112.4,92.3 112.6,91.9 112.8,91.1 112.9,88.8 113.1,86.0 113.2,84.4 113.4,83.3 113.5,82.2 113.7,80.9 113.8,80.0 114.0,78.9 114.2,77.1 114.3,75.4 114.5,74.3 114.6,72.9 114.8,71.4 114.9,69.5 115.1,67.3 115.2,66.0 115.4,64.6 115.6,63.8 115.7,61.2 115.9,59.2 116.0,57.7 116.2,56.3 116.3,54.9 116.5,53.4 117.5,54.9 118.4,56.8 119.4,58.0 120.3,59.7 121.3,60.5 123.2,61.7 125.0,62.9 125.6,64.5 126.2,65.5 126.9,66.6 127.5,68.0 129.0,68.4 130.5,68.5 132.0,68.6 133.5,69.3 135.0,69.7 135.7,70.3 136.4,71.2 137.1,72.7 137.9,74.5 138.6,76.5 139.3,77.6 140.0,79.5 141.3,79.9 142.5,81.3 143.8,82.3 145.0,84.4 146.3,86.2 147.3,87.4 148.4,88.3 149.4,89.4 150.4,90.7 151.5,91.9 152.5,93.2 153.6,94.6 154.7,96.1 155.8,97.6 156.9,99.0 158.0,101.1 159.4,102.0 160.8,102.6 162.2,102.8 163.6,103.7 165.0,105.2 166.0,106.6 167.0,108.1 168.0,109.8 169.0,110.5 170.0,111.4 170.8,112.2 171.7,114.5 172.5,116.3 173.3,117.4 174.2,118.8 175.0,120.2 176.0,121.4 177.0,123.2 178.0,124.5 179.0,125.7 180.0,126.2 181.0,127.2 182.0,128.6 183.0,129.0 184.0,130.2 185.0,131.8 186.2,133.4 187.5,134.6 188.8,135.7 190.0,137.5 191.2,139.1 192.5,139.3 193.8,140.0 195.0,140.5 196.2,142.1 197.5,143.5 198.8,143.6 200.0,144.6 201.2,144.6 202.5,146.6 203.8,146.6 205.0,148.0 206.2,149.1 207.5,150.4 208.8,151.2 210.0,151.9 211.2,152.9 212.5,153.6 213.8,154.7 215.0,155.8 216.4,156.5 217.9,157.6 219.3,157.6 220.7,158.7 222.1,158.4 223.6,159.5 225.0,160.2 226.5,160.7 228.0,161.3 229.5,160.9 231.0,160.7 232.5,161.1 234.0,161.6 235.5,162.2 237.0,161.8 238.5,163.0 240.0,163.9 241.5,165.2 243.1,164.8 244.6,164.8 246.2,164.2 247.7,165.1 249.2,165.9 250.8,166.3 252.3,166.8 253.8,166.9 255.4,167.4 256.9,166.5 258.5,167.0 260.0,167.3 261.5,167.9 263.1,167.8 264.6,168.1 266.2,169.0 267.7,168.8 269.2,169.2 270.8,169.4 272.3,170.4 273.8,170.2 275.4,169.6 276.9,169.6 278.5,169.9 280.0,170.4 281.5,171.0 283.1,171.4 284.6,171.1 286.2,170.9 287.7,170.9 289.2,172.4 290.8,173.1 292.3,174.0 293.8,174.2 295.4,174.9 296.9,175.6 298.5,176.5 300.0,176.7 301.5,177.4 302.9,177.9 304.4,178.9 305.9,178.8 307.4,179.0 308.8,178.3 310.3,178.5 311.8,178.0 313.2,179.4 314.7,179.8 316.2,180.9 317.6,180.9 319.1,181.7 320.6,181.9 322.1,182.5 323.5,183.6 325.0,184.2 326.5,184.7 328.1,184.8 329.6,185.2 331.2,185.0 332.7,184.8 334.2,185.7 335.8,186.0 337.3,186.3 338.8,186.7 340.4,187.9 341.9,188.5 343.5,188.9 345.0,189.1 346.5,189.0 348.1,188.5 349.6,188.5 351.2,189.5 352.7,190.1 354.2,190.3 355.8,190.0 357.3,190.0 358.8,190.5 360.4,190.7 361.9,191.6 363.5,191.2 365.0,191.9 366.5,191.4 368.0,191.2 369.5,191.1 371.0,191.0 372.5,190.7 374.0,189.9 375.5,189.8 377.0,190.2 378.5,190.5 380.0,190.4 381.5,190.4 383.0,189.8 384.5,189.7 386.0,189.3 387.5,188.9 389.0,187.4 390.5,187.1 392.0,187.0 393.5,187.3 395.0,186.4 396.5,186.1 398.0,185.2 399.5,185.0 401.0,184.6 402.5,184.4 404.0,184.0 405.5,183.3 407.0,183.1 408.5,182.5 410.0,181.7 411.7,181.0 413.3,180.4 415.0,179.8 416.7,179.9 418.3,179.5 420.0,178.9 421.4,177.8 422.9,177.2 424.3,177.0 425.7,176.8 427.1,176.1 428.6,175.0 430.0,175.3 431.4,175.5 432.9,175.4 434.3,173.1 435.7,172.4 437.1,171.8 438.6,172.7 440.0,172.1 441.4,171.4 442.9,170.5 444.3,169.1 445.7,169.0 447.1,168.4 448.6,168.3 450.0,167.8 451.4,167.8 452.9,167.0 454.3,165.8 455.7,164.8 457.1,164.8 458.6,164.3 460.0,163.4 461.5,163.5 463.0,163.5 464.5,162.9 466.0,161.2 467.5,161.0 469.0,161.2 470.5,161.8 472.0,161.0 473.5,159.8 475.0,158.8 476.7,157.4 478.3,157.0 480.0,156.5 481.7,157.0 483.3,156.6 485.0,156.1 486.7,156.3 488.3,156.9 490.0,157.4 491.7,157.5 493.3,157.5 495.0,157.7 496.4,158.2 497.9,158.6 499.3,158.6 500.7,159.2 502.1,159.9 503.6,160.7 505.0,161.3 506.4,162.1 507.9,162.7 509.3,163.0 510.7,163.8 512.1,164.9 513.6,166.2 515.0,166.7 516.1,167.6 517.2,168.2 518.3,168.8 519.4,169.8 520.6,170.9 521.7,172.9 522.8,173.6 523.9,174.1 525.0,174.7 526.1,176.7 527.2,178.5 528.3,179.5 529.4,179.9 530.6,181.3 531.7,183.0 532.8,184.4 533.9,185.9 535.0,187.0 536.0,188.1 537.0,188.9 538.0,190.4 539.0,191.8 540.0,193.1 541.0,193.3 542.0,194.1 543.0,195.1 544.0,196.5 545.0,198.0 546.0,199.1 547.0,200.7 548.0,201.4 549.0,203.2 550.0,204.4 551.0,205.6 552.0,205.9 553.0,207.5 554.0,208.6 555.0,210.0 555.9,210.7 556.8,212.1 557.7,212.6 558.6,213.6 559.5,214.9 560.5,216.9 561.4,218.3 562.3,219.5 563.2,220.6 564.1,221.7 565.0,223.0 566.0,224.0 567.0,225.0 568.0,226.4 569.0,227.3 570.0,228.4 571.0,229.4 572.0,230.6 573.0,231.9 574.0,232.4 575.0,234.0 576.1,235.5 577.2,237.6 578.3,239.0 579.4,240.0 580.6,240.5 581.7,242.4 582.8,243.9 583.9,245.9 585.0,246.2 586.0,247.2 587.0,247.4 588.0,249.2 589.0,250.8 590.0,251.9 591.0,252.9 592.0,254.0 593.0,255.2 594.0,255.8 595.0,256.4 595.9,258.1 596.8,259.5 597.7,261.2 598.6,262.7 599.5,264.7 600.5,266.2 601.4,267.9 602.3,269.3 603.2,269.9 604.1,270.5 605.0,271.0 606.0,272.4 607.0,273.9 608.0,275.5 609.0,277.3 610.0,278.1 611.0,279.0 612.0,280.2 613.0,281.9 614.0,283.5 615.0,284.8 616.0,285.9 616.9,287.5 617.9,288.9 618.9,290.4 619.8,291.2 620.8,292.3 621.7,292.7 622.7,293.9 623.7,295.2 624.6,296.9 625.6,298.6 626.6,299.9 627.6,301.3 628.5,302.5 629.5,303.6 630.5,305.6 631.5,307.2 632.4,308.6 633.4,309.5 634.4,310.6 635.6,311.6 636.9,313.2 638.1,314.5 639.4,315.3 640.6,315.7 641.9,316.6 643.1,317.7 644.1,319.1 645.1,320.5 646.0,322.0 647.0,323.7 648.0,325.3 649.0,326.6 649.9,328.7 650.9,329.8 651.9,331.6 653.1,331.8 654.4,333.3 655.6,333.0 656.9,333.7 658.1,334.4 659.4,336.3 660.6,338.3 661.7,339.4 662.8,340.7 663.9,341.3 665.0,342.5 666.1,343.4 667.2,344.2 668.3,345.1 669.4,345.7 670.5,347.2 671.6,347.8 672.7,349.3 673.8,350.8 674.8,352.1 675.9,353.1 677.0,353.9 678.1,355.1 679.4,355.8 680.6,356.4 681.9,357.5 683.1,359.0 684.4,359.6 685.6,360.9 686.9,362.1 688.1,363.5 689.4,364.1 690.6,364.5 691.9,366.0 693.1,366.8 694.4,368.3 695.6,368.7 696.9,369.7 698.2,370.7 699.5,372.3 700.9,373.5 702.2,374.0 703.5,374.9 704.8,375.8 706.1,377.1 707.4,378.4 708.8,379.7 710.1,380.4 711.4,381.7 712.7,382.3 714.0,383.7 715.3,383.7 716.6,384.7 718.0,384.8 719.3,386.6 720.6,388.1 721.9,389.2 723.4,388.7 724.8,388.3 726.2,389.6 727.7,390.5 729.1,391.6 730.6,391.6 731.8,392.7 733.0,393.4 734.2,394.5 735.4,395.0 736.6,396.4 737.8,397.4 739.0,399.1 740.2,400.0 741.4,400.6 742.6,401.5 743.8,402.4 745.2,403.9 746.7,404.9 748.1,405.7 749.6,405.8 751.0,406.0 752.5,406.5 753.8,407.5 755.0,408.7 756.2,410.2 757.5,411.4 758.8,412.9 760.0,413.5 761.2,414.2 762.7,415.2 764.2,415.5 765.6,416.1 767.1,415.9 768.5,417.3 770.0,418.3 771.5,418.9 772.9,419.7 774.4,420.4 775.8,421.4 777.3,421.4 778.8,421.8 780.5,422.1 782.2,422.9 784.0,424.0" fill="none" stroke="#ec5616" stroke-width="3.2" stroke-linejoin="round" stroke-linecap="round"/></g>
<g><path d="M97.8,557.5 V3.9 H784.4 V557.5 Z" fill="none" stroke="#262626" stroke-width="2.2"/><path d="M92.5,3.9 H98" stroke="#262626" stroke-width="2.2"/><path d="M137.7,557.5 v4.5" stroke="#262626" stroke-width="2"/><path d="M137.7,3.9 v4.5" stroke="#262626" stroke-width="2"/><path d="M218.5,557.5 v8.5" stroke="#262626" stroke-width="2"/><path d="M218.5,3.9 v8.5" stroke="#262626" stroke-width="2"/><path d="M299.3,557.5 v4.5" stroke="#262626" stroke-width="2"/><path d="M299.3,3.9 v4.5" stroke="#262626" stroke-width="2"/><path d="M380.0,557.5 v8.5" stroke="#262626" stroke-width="2"/><path d="M380.0,3.9 v8.5" stroke="#262626" stroke-width="2"/><path d="M460.8,557.5 v4.5" stroke="#262626" stroke-width="2"/><path d="M460.8,3.9 v4.5" stroke="#262626" stroke-width="2"/><path d="M541.6,557.5 v8.5" stroke="#262626" stroke-width="2"/><path d="M541.6,3.9 v8.5" stroke="#262626" stroke-width="2"/><path d="M622.4,557.5 v4.5" stroke="#262626" stroke-width="2"/><path d="M622.4,3.9 v4.5" stroke="#262626" stroke-width="2"/><path d="M703.1,557.5 v8.5" stroke="#262626" stroke-width="2"/><path d="M703.1,3.9 v8.5" stroke="#262626" stroke-width="2"/><path d="M783.9,557.5 v4.5" stroke="#262626" stroke-width="2"/><path d="M783.9,3.9 v4.5" stroke="#262626" stroke-width="2"/><path d="M97.8,557.5 h-10" stroke="#262626" stroke-width="2"/><path d="M784.4,557.5 h-10" stroke="#262626" stroke-width="2"/><path d="M97.8,507.1 h-5" stroke="#262626" stroke-width="2"/><path d="M784.4,507.1 h-5" stroke="#262626" stroke-width="2"/><path d="M97.8,456.8 h-10" stroke="#262626" stroke-width="2"/><path d="M784.4,456.8 h-10" stroke="#262626" stroke-width="2"/><path d="M97.8,406.4 h-5" stroke="#262626" stroke-width="2"/><path d="M784.4,406.4 h-5" stroke="#262626" stroke-width="2"/><path d="M97.8,356.0 h-10" stroke="#262626" stroke-width="2"/><path d="M784.4,356.0 h-10" stroke="#262626" stroke-width="2"/><path d="M97.8,305.6 h-5" stroke="#262626" stroke-width="2"/><path d="M784.4,305.6 h-5" stroke="#262626" stroke-width="2"/><path d="M97.8,255.2 h-10" stroke="#262626" stroke-width="2"/><path d="M784.4,255.2 h-10" stroke="#262626" stroke-width="2"/><path d="M97.8,204.9 h-5" stroke="#262626" stroke-width="2"/><path d="M784.4,204.9 h-5" stroke="#262626" stroke-width="2"/><path d="M97.8,154.5 h-10" stroke="#262626" stroke-width="2"/><path d="M784.4,154.5 h-10" stroke="#262626" stroke-width="2"/><path d="M97.8,104.1 h-5" stroke="#262626" stroke-width="2"/><path d="M784.4,104.1 h-5" stroke="#262626" stroke-width="2"/><path d="M97.8,53.8 h-10" stroke="#262626" stroke-width="2"/><path d="M784.4,53.8 h-10" stroke="#262626" stroke-width="2"/></g>
<g><text x="81.2" y="563.9" text-anchor="end" font-size="22.5">0.0</text><text x="81.2" y="463.1" text-anchor="end" font-size="22.5">0.2</text><text x="81.2" y="362.4" text-anchor="end" font-size="22.5">0.4</text><text x="81.2" y="261.6" text-anchor="end" font-size="22.5">0.6</text><text x="81.2" y="160.9" text-anchor="end" font-size="22.5">0.8</text><text x="81.2" y="60.1" text-anchor="end" font-size="22.5">1.0</text><text x="218.3" y="590.6" text-anchor="middle" font-size="22.5">500</text><text x="379.8" y="590.6" text-anchor="middle" font-size="22.5">600</text><text x="541.4" y="590.6" text-anchor="middle" font-size="22.5">700</text><text x="702.9" y="590.6" text-anchor="middle" font-size="22.5">800</text><text x="339.2" y="632.5" font-size="27" textLength="203.5">Wavelength (nm)</text><text transform="translate(23.2,360.6) rotate(-90)" x="0" y="0" font-size="27" textLength="229">Intensity (arbi. unit)</text><text x="0" y="0" font-size="38.5" transform="translate(2.4 35.6) scale(0.91 1)">A</text><text x="26.6" y="33.2" font-size="37">)</text></g>
<g><rect x="799.6" y="3.9" width="475.6" height="193.6" fill="#fff" stroke="#a0a0a0" stroke-width="1.8"/><path d="M800,17.1 H846.3" stroke="#1414c8" stroke-width="3.5"/><text x="850.5" y="23.8" font-size="19.5">Unbroken IAuPs Inside / Near Nucleus</text><path d="M800,41.0 H846.3" stroke="#55539c" stroke-width="3.5"/><text x="850.5" y="47.8" font-size="19.5">Unbroken IAuPs Cell Peripher</text><path d="M800,65.0 H846.3" stroke="#939364" stroke-width="3.5"/><text x="850.5" y="71.7" font-size="19.5">Broken IAuPs Inside / Near Nucleus</text><path d="M800,88.9 H846.3" stroke="#dad42c" stroke-width="3.5"/><text x="850.5" y="95.6" font-size="19.5">Broken IAuPs Cell Periphery</text><path d="M800,112.9 H846.3" stroke="#9016dc" stroke-width="3.5"/><text x="850.5" y="119.6" font-size="19.5">High Concentration AuNPs Cell Periphery</text><path d="M800,136.8 H846.3" stroke="#1a84e2" stroke-width="3.5"/><text x="850.5" y="143.5" font-size="19.5">High Concentration AuNPs Inside / Near Nucleus</text><path d="M800,160.8 H846.3" stroke="#d4f024" stroke-width="3.5"/><text x="850.5" y="167.5" font-size="19.5">Low Concentration AuNPs Cell Periphery</text><path d="M800,184.8 H846.3" stroke="#ec5616" stroke-width="3.5"/><text x="850.5" y="191.4" font-size="19.5">Low Concentration AuNPs Inside/Near Nucleus</text></g></g>
</svg></div>
</body></html>
